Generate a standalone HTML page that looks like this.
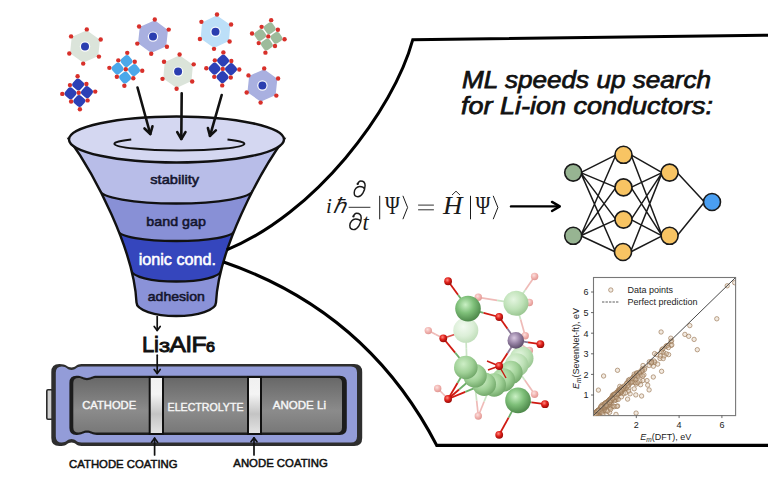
<!DOCTYPE html><html><head><meta charset="utf-8"><style>html,body{margin:0;padding:0;background:#fff;width:768px;height:480px;overflow:hidden}svg{display:block}text{font-family:"Liberation Sans",sans-serif}</style></head><body>
<svg width="768" height="480" viewBox="0 0 768 480">
<defs>
<linearGradient id="gray" x1="0" y1="0" x2="0" y2="1"><stop offset="0" stop-color="#686868"/><stop offset="0.6" stop-color="#8b8b8b"/><stop offset="1" stop-color="#787878"/></linearGradient>
<linearGradient id="coat" x1="0" y1="0" x2="0" y2="1"><stop offset="0" stop-color="#f0f0f0"/><stop offset="0.3" stop-color="#f4f4f4"/><stop offset="0.65" stop-color="#c4c4c4"/><stop offset="1" stop-color="#e4e4e4"/></linearGradient>
<radialGradient id="gA" cx="0.4" cy="0.35" r="0.65"><stop offset="0" stop-color="#c9f0c4"/><stop offset="0.5" stop-color="#7fc07a"/><stop offset="1" stop-color="#4f8a4c"/></radialGradient>
<radialGradient id="gL" cx="0.4" cy="0.35" r="0.65"><stop offset="0" stop-color="#cdeec6"/><stop offset="0.6" stop-color="#9fd096"/><stop offset="1" stop-color="#74aa6c"/></radialGradient>
<radialGradient id="rA" cx="0.4" cy="0.35" r="0.65"><stop offset="0" stop-color="#ff8a80"/><stop offset="0.5" stop-color="#e0201a"/><stop offset="1" stop-color="#9a0c08"/></radialGradient>
<radialGradient id="gM" cx="0.4" cy="0.35" r="0.65"><stop offset="0" stop-color="#e4f5e0"/><stop offset="0.6" stop-color="#bfe2b8"/><stop offset="1" stop-color="#9cc894"/></radialGradient>
<radialGradient id="gP" cx="0.4" cy="0.35" r="0.65"><stop offset="0" stop-color="#f2faf0"/><stop offset="0.6" stop-color="#dcefd8"/><stop offset="1" stop-color="#c2dfbc"/></radialGradient>
<radialGradient id="pkA" cx="0.4" cy="0.35" r="0.65"><stop offset="0" stop-color="#fbe0de"/><stop offset="0.6" stop-color="#f0b0ac"/><stop offset="1" stop-color="#e09894"/></radialGradient>
<radialGradient id="pA" cx="0.4" cy="0.35" r="0.65"><stop offset="0" stop-color="#d8c8e0"/><stop offset="0.5" stop-color="#9a86a8"/><stop offset="1" stop-color="#5e4e6c"/></radialGradient>
<clipPath id="body"><path id="bodyp" d="M69,139 C95,175 134,250 136.5,302.5 A39.75,13.5 0 0 0 216,302.5 C218.5,250 258,175 284,139 Z"/></clipPath>
</defs>
<polygon points="86.62,31.08 99.16,40.20 97.54,55.61 83.38,61.92 70.84,52.80 72.46,37.39" fill="#dbe4da" stroke="#dbe4da" stroke-width="1.5" stroke-linejoin="round"/><circle cx="86.80" cy="29.39" r="2.2" fill="#d8302a"/><circle cx="100.71" cy="39.50" r="2.2" fill="#d8302a"/><circle cx="98.92" cy="56.61" r="2.2" fill="#d8302a"/><circle cx="83.20" cy="63.61" r="2.2" fill="#d8302a"/><circle cx="69.29" cy="53.50" r="2.2" fill="#d8302a"/><circle cx="71.08" cy="36.39" r="2.2" fill="#d8302a"/><circle cx="85" cy="46.5" r="5.2" fill="#fff" opacity="0.9"/><circle cx="85" cy="46.5" r="4" fill="#2b3eb0"/>
<polygon points="154.62,21.18 167.16,30.30 165.54,45.71 151.38,52.02 138.84,42.90 140.46,27.49" fill="#a9b0e0" stroke="#a9b0e0" stroke-width="1.5" stroke-linejoin="round"/><circle cx="154.80" cy="19.49" r="2.2" fill="#d8302a"/><circle cx="168.71" cy="29.60" r="2.2" fill="#d8302a"/><circle cx="166.92" cy="46.71" r="2.2" fill="#d8302a"/><circle cx="151.20" cy="53.71" r="2.2" fill="#d8302a"/><circle cx="137.29" cy="43.60" r="2.2" fill="#d8302a"/><circle cx="139.08" cy="26.49" r="2.2" fill="#d8302a"/><circle cx="153" cy="36.6" r="5.2" fill="#fff" opacity="0.9"/><circle cx="153" cy="36.6" r="4" fill="#2b3eb0"/>
<polygon points="216.85,16.26 229.55,25.15 228.20,40.59 214.15,47.14 201.45,38.25 202.80,22.81" fill="#bcdff8" stroke="#bcdff8" stroke-width="1.5" stroke-linejoin="round"/><circle cx="217.00" cy="14.57" r="2.2" fill="#d8302a"/><circle cx="231.09" cy="24.43" r="2.2" fill="#d8302a"/><circle cx="229.59" cy="41.57" r="2.2" fill="#d8302a"/><circle cx="214.00" cy="48.83" r="2.2" fill="#d8302a"/><circle cx="199.91" cy="38.97" r="2.2" fill="#d8302a"/><circle cx="201.41" cy="21.83" r="2.2" fill="#d8302a"/><circle cx="215.5" cy="31.7" r="5.2" fill="#fff" opacity="0.9"/><circle cx="215.5" cy="31.7" r="4" fill="#2b3eb0"/>
<polygon points="179.45,56.16 192.15,65.05 190.80,80.49 176.75,87.04 164.05,78.15 165.40,62.71" fill="#dbe4da" stroke="#dbe4da" stroke-width="1.5" stroke-linejoin="round"/><circle cx="179.60" cy="54.47" r="2.2" fill="#d8302a"/><circle cx="193.69" cy="64.33" r="2.2" fill="#d8302a"/><circle cx="192.19" cy="81.47" r="2.2" fill="#d8302a"/><circle cx="176.60" cy="88.73" r="2.2" fill="#d8302a"/><circle cx="162.51" cy="78.87" r="2.2" fill="#d8302a"/><circle cx="164.01" cy="61.73" r="2.2" fill="#d8302a"/><circle cx="178.1" cy="71.6" r="5.2" fill="#fff" opacity="0.9"/><circle cx="178.1" cy="71.6" r="4" fill="#2b3eb0"/>
<polygon points="264.02,70.08 276.56,79.20 274.94,94.61 260.78,100.92 248.24,91.80 249.86,76.39" fill="#a9b0e0" stroke="#a9b0e0" stroke-width="1.5" stroke-linejoin="round"/><circle cx="264.20" cy="68.39" r="2.2" fill="#d8302a"/><circle cx="278.11" cy="78.50" r="2.2" fill="#d8302a"/><circle cx="276.32" cy="95.61" r="2.2" fill="#d8302a"/><circle cx="260.60" cy="102.61" r="2.2" fill="#d8302a"/><circle cx="246.69" cy="92.50" r="2.2" fill="#d8302a"/><circle cx="248.48" cy="75.39" r="2.2" fill="#d8302a"/><circle cx="262.4" cy="85.5" r="5.2" fill="#fff" opacity="0.9"/><circle cx="262.4" cy="85.5" r="4" fill="#2b3eb0"/>
<rect x="73.07" y="79.42" width="10.2" height="10.2" rx="3.2" fill="#2c40b6" transform="rotate(41.0 78.17 84.52)"/><rect x="65.42" y="88.23" width="10.2" height="10.2" rx="3.2" fill="#2c40b6" transform="rotate(41.0 70.52 93.33)"/><rect x="81.88" y="87.07" width="10.2" height="10.2" rx="3.2" fill="#2c40b6" transform="rotate(41.0 86.98 92.17)"/><rect x="74.23" y="95.88" width="10.2" height="10.2" rx="3.2" fill="#2c40b6" transform="rotate(41.0 79.33 100.98)"/><circle cx="77.60" cy="76.29" r="2.2" fill="#d8302a"/><circle cx="69.94" cy="85.10" r="2.2" fill="#d8302a"/><circle cx="62.29" cy="93.90" r="2.2" fill="#d8302a"/><circle cx="86.40" cy="83.94" r="2.2" fill="#d8302a"/><circle cx="78.75" cy="92.75" r="2.2" fill="#d8302a"/><circle cx="71.10" cy="101.56" r="2.2" fill="#d8302a"/><circle cx="95.21" cy="91.60" r="2.2" fill="#d8302a"/><circle cx="87.56" cy="100.40" r="2.2" fill="#d8302a"/><circle cx="79.90" cy="109.21" r="2.2" fill="#d8302a"/>
<rect x="121.42" y="55.98" width="10.2" height="10.2" rx="3.2" fill="#4ba8ea" transform="rotate(50.0 126.52 61.08)"/><rect x="112.48" y="63.48" width="10.2" height="10.2" rx="3.2" fill="#4ba8ea" transform="rotate(50.0 117.58 68.58)"/><rect x="128.92" y="64.92" width="10.2" height="10.2" rx="3.2" fill="#4ba8ea" transform="rotate(50.0 134.02 70.02)"/><rect x="119.98" y="72.42" width="10.2" height="10.2" rx="3.2" fill="#4ba8ea" transform="rotate(50.0 125.08 77.52)"/><circle cx="127.24" cy="52.86" r="2.2" fill="#d8302a"/><circle cx="118.30" cy="60.36" r="2.2" fill="#d8302a"/><circle cx="109.36" cy="67.86" r="2.2" fill="#d8302a"/><circle cx="134.74" cy="61.80" r="2.2" fill="#d8302a"/><circle cx="125.80" cy="69.30" r="2.2" fill="#d8302a"/><circle cx="116.86" cy="76.80" r="2.2" fill="#d8302a"/><circle cx="142.24" cy="70.74" r="2.2" fill="#d8302a"/><circle cx="133.30" cy="78.24" r="2.2" fill="#d8302a"/><circle cx="124.36" cy="85.74" r="2.2" fill="#d8302a"/>
<rect x="217.99" y="55.56" width="10.2" height="10.2" rx="3.2" fill="#2c40b6" transform="rotate(47.0 223.09 60.66)"/><rect x="209.46" y="63.51" width="10.2" height="10.2" rx="3.2" fill="#2c40b6" transform="rotate(47.0 214.56 68.61)"/><rect x="225.94" y="64.09" width="10.2" height="10.2" rx="3.2" fill="#2c40b6" transform="rotate(47.0 231.04 69.19)"/><rect x="217.41" y="72.04" width="10.2" height="10.2" rx="3.2" fill="#2c40b6" transform="rotate(47.0 222.51 77.14)"/><circle cx="223.38" cy="52.41" r="2.2" fill="#d8302a"/><circle cx="214.84" cy="60.37" r="2.2" fill="#d8302a"/><circle cx="206.31" cy="68.32" r="2.2" fill="#d8302a"/><circle cx="231.33" cy="60.94" r="2.2" fill="#d8302a"/><circle cx="222.80" cy="68.90" r="2.2" fill="#d8302a"/><circle cx="214.27" cy="76.86" r="2.2" fill="#d8302a"/><circle cx="239.29" cy="69.48" r="2.2" fill="#d8302a"/><circle cx="230.76" cy="77.43" r="2.2" fill="#d8302a"/><circle cx="222.22" cy="85.39" r="2.2" fill="#d8302a"/>
<rect x="264.63" y="23.18" width="10.2" height="10.2" rx="3.2" fill="#9dbb9b" transform="rotate(55.0 269.73 28.28)"/><rect x="255.08" y="29.87" width="10.2" height="10.2" rx="3.2" fill="#9dbb9b" transform="rotate(55.0 260.18 34.97)"/><rect x="271.32" y="32.73" width="10.2" height="10.2" rx="3.2" fill="#9dbb9b" transform="rotate(55.0 276.42 37.83)"/><rect x="261.77" y="39.42" width="10.2" height="10.2" rx="3.2" fill="#9dbb9b" transform="rotate(55.0 266.87 44.52)"/><circle cx="271.17" cy="20.15" r="2.2" fill="#d8302a"/><circle cx="261.61" cy="26.84" r="2.2" fill="#d8302a"/><circle cx="252.05" cy="33.53" r="2.2" fill="#d8302a"/><circle cx="277.86" cy="29.71" r="2.2" fill="#d8302a"/><circle cx="268.30" cy="36.40" r="2.2" fill="#d8302a"/><circle cx="258.74" cy="43.09" r="2.2" fill="#d8302a"/><circle cx="284.55" cy="39.27" r="2.2" fill="#d8302a"/><circle cx="274.99" cy="45.96" r="2.2" fill="#d8302a"/><circle cx="265.43" cy="52.65" r="2.2" fill="#d8302a"/>
<g clip-path="url(#body)">
<rect x="60" y="100" width="240" height="230" fill="#b8bde8"/>
<path d="M0,190 L99.74,190 A76.51,13.5 0 0 0 252.76,190 L400,190 L400,400 L0,400Z" fill="#8890d6"/>
<path d="M0,231 L118.50,231 A57.75,10 0 0 0 234.00,231 L400,231 L400,400 L0,400Z" fill="#3546bd"/>
<path d="M0,270.5 L131.45,270.5 A44.80,11 0 0 0 221.05,270.5 L400,270.5 L400,400 L0,400Z" fill="#8a92d8"/>
<path d="M99.74,190 A76.51,13.5 0 0 0 252.76,190M118.50,231 A57.75,10 0 0 0 234.00,231M131.45,270.5 A44.80,11 0 0 0 221.05,270.5" fill="none" stroke="#111" stroke-width="2.3"/>
</g>
<use href="#bodyp" fill="none" stroke="#111" stroke-width="2.4"/>
<ellipse cx="176.5" cy="139.5" rx="107.5" ry="23" fill="#d4d7f1" stroke="#111" stroke-width="2.4"/>
<path d="M131.25,139.4 A65,6.6 0 1 0 227.5,139.4" fill="none" stroke="#111" stroke-width="2"/>
<line x1="137.5" y1="87.5" x2="150.3" y2="134" stroke="#111" stroke-width="2.6" stroke-linecap="round"/><path d="M144.50,128.49 L150.3,134 L152.46,126.30" fill="none" stroke="#111" stroke-width="2.6" stroke-linecap="round" stroke-linejoin="round"/>
<line x1="181.7" y1="93.3" x2="181.3" y2="139" stroke="#111" stroke-width="2.6" stroke-linecap="round"/><path d="M177.24,132.11 L181.3,139 L185.48,132.18" fill="none" stroke="#111" stroke-width="2.6" stroke-linecap="round" stroke-linejoin="round"/>
<line x1="221.7" y1="95" x2="210" y2="135.8" stroke="#111" stroke-width="2.6" stroke-linecap="round"/><path d="M207.93,128.07 L210,135.8 L215.85,130.35" fill="none" stroke="#111" stroke-width="2.6" stroke-linecap="round" stroke-linejoin="round"/>
<g fill="#14152e" stroke="#14152e" stroke-width="0.55">
<text x="150.3" y="184" font-size="13.5" textLength="48.8" lengthAdjust="spacingAndGlyphs">stability</text>
<text x="146.3" y="225.6" font-size="13.5" textLength="59.6" lengthAdjust="spacingAndGlyphs">band gap</text>
<text x="138.7" y="264.6" font-size="16" fill="#fff" stroke="#fff" textLength="77.3" lengthAdjust="spacingAndGlyphs">ionic cond.</text>
<text x="147.8" y="300.6" font-size="13.3" textLength="57.1" lengthAdjust="spacingAndGlyphs">adhesion</text>
</g>
<path d="M226.7,249.8 C314.3,214.4 393.5,110.9 412.8,39.7 L770,35.2" fill="none" stroke="#000" stroke-width="3" stroke-linejoin="miter"/>
<path d="M223.6,262 C319.1,294.8 389.7,354.7 436.7,445.4 L770,445.4" fill="none" stroke="#000" stroke-width="3.1"/>
<line x1="157.2" y1="316.6" x2="157.2" y2="330.4" stroke="#111" stroke-width="1.7" stroke-linecap="round"/><path d="M154.21,326.39 L157.2,330.4 L160.19,326.39" fill="none" stroke="#111" stroke-width="1.7" stroke-linecap="round" stroke-linejoin="round"/>
<g fill="#111" stroke="#111" stroke-width="0.9">
<text x="142" y="351.6" font-size="22">L</text>
<text x="154" y="351.6" font-size="22">i</text>
<text x="159" y="351.6" font-size="14" textLength="11" lengthAdjust="spacingAndGlyphs">3</text>
<text x="169.5" y="351.6" font-size="22" textLength="37" lengthAdjust="spacingAndGlyphs">AlF</text>
<text x="206" y="351.6" font-size="14" textLength="9" lengthAdjust="spacingAndGlyphs">6</text>
</g>
<rect x="46.8" y="389.7" width="6" height="29.5" rx="1.2" fill="#d0d0d0" stroke="#2b2b2b" stroke-width="1.6"/>
<path d="M51.3,371.9 Q51.3,363.9 59.3,363.9 C66.5,363.9 67.5,367.4 71.5,367.4 C75.5,367.4 76.5,363.9 81.5,363.9 L354.2,363.9 Q362.2,363.9 362.2,371.9 L362.2,438 Q362.2,446 354.2,446 L81.5,446 C76.5,446 75.5,442.5 71.5,442.5 C67.5,442.5 66.5,446 61.5,446 L59.3,446 Q51.3,446 51.3,438 Z" fill="#2e2e2e"/>
<path d="M55.8,372.5 Q55.8,366.5 61.8,366.5 C66.5,366.5 67.5,370.0 71.5,370.0 C75.5,370.0 76.5,366.5 81.5,366.5 L351,366.5 Q357,366.5 357,372.5 L357,436.6 Q357,442.6 351,442.6 L81.5,442.6 C76.5,442.6 75.5,439.1 71.5,439.1 C67.5,439.1 66.5,442.6 61.5,442.6 L61.8,442.6 Q55.8,442.6 55.8,436.6 Z" fill="#939cd8"/>
<path d="M69.4,382.8 Q69.4,375.8 76.4,375.8 C82,375.8 83,378.0 87,378.0 C91,378.0 92,375.8 97,375.8 L339.8,375.8 Q346.8,375.8 346.8,382.8 L346.8,428 Q346.8,435 339.8,435 L97,435 C92,435 91,432.8 87,432.8 C83,432.8 82,435 77,435 L76.4,435 Q69.4,435 69.4,428 Z" fill="#1c1c1c"/>
<path d="M73.3,383 Q73.3,378 78.3,378 C82,378 83,380.2 87,380.2 C91,380.2 92,378 97,378 L337,378 Q342,378 342,383 L342,427.6 Q342,432.6 337,432.6 L97,432.6 C92,432.6 91,430.40000000000003 87,430.40000000000003 C83,430.40000000000003 82,432.6 77,432.6 L78.3,432.6 Q73.3,432.6 73.3,427.6 Z" fill="url(#gray)"/>
<rect x="149.7" y="377" width="13.3" height="57" fill="url(#coat)" stroke="#111" stroke-width="2"/>
<rect x="248" y="377" width="13" height="57" fill="url(#coat)" stroke="#111" stroke-width="2"/>
<line x1="157.2" y1="355.2" x2="157.2" y2="373.4" stroke="#111" stroke-width="1.7" stroke-linecap="round"/><path d="M154.21,369.39 L157.2,373.4 L160.19,369.39" fill="none" stroke="#111" stroke-width="1.7" stroke-linecap="round" stroke-linejoin="round"/>
<g fill="#f6f6f6" stroke="#f6f6f6" stroke-width="0.4" font-size="10.6">
<text x="82.3" y="408.7" textLength="53.8" lengthAdjust="spacingAndGlyphs">CATHODE</text>
<text x="167.6" y="410.8" textLength="75.9" lengthAdjust="spacingAndGlyphs">ELECTROLYTE</text>
<text x="272.8" y="408.9" textLength="53.2" lengthAdjust="spacingAndGlyphs">ANODE Li</text>
</g>
<line x1="154.6" y1="455" x2="154.6" y2="438.2" stroke="#111" stroke-width="1.7" stroke-linecap="round"/><path d="M157.59,442.21 L154.6,438.2 L151.61,442.21" fill="none" stroke="#111" stroke-width="1.7" stroke-linecap="round" stroke-linejoin="round"/>
<line x1="254" y1="455" x2="254" y2="437.8" stroke="#111" stroke-width="1.7" stroke-linecap="round"/><path d="M256.99,441.81 L254,437.8 L251.01,441.81" fill="none" stroke="#111" stroke-width="1.7" stroke-linecap="round" stroke-linejoin="round"/>
<g fill="#111" stroke="#111" stroke-width="0.5" font-size="11.2">
<text x="69.1" y="468" textLength="108.5" lengthAdjust="spacingAndGlyphs">CATHODE COATING</text>
<text x="233.3" y="466.9" textLength="94.5" lengthAdjust="spacingAndGlyphs">ANODE COATING</text>
</g>
<g font-style="italic" font-size="24.5" fill="#111" stroke="#111" stroke-width="0.75">
<text x="462" y="87.7" textLength="249" lengthAdjust="spacingAndGlyphs">ML speeds up search</text>
<text x="461" y="113.8" textLength="252" lengthAdjust="spacingAndGlyphs">for Li-ion conductors:</text>
</g>
<g fill="#1a1a1a" style="font-family:'Liberation Serif',serif">
<text x="326" y="213.2" font-size="21" font-style="italic" style="font-family:'Liberation Serif',serif">i</text>
<text x="332.5" y="213.2" font-size="21" font-style="italic" style="font-family:'Liberation Serif',serif">ℏ</text>
<path d="M357.66,183.97 C358.36,181.83 359.28,180.90 360.67,180.90 C363.44,180.90 365.10,182.76 365.10,185.55 C365.10,190.66 361.59,196.70 357.89,196.70 C355.59,196.70 354.20,194.84 354.20,192.80 C354.20,189.26 356.97,186.48 359.74,186.48 C362.05,186.48 363.90,187.41 364.64,188.80" fill="none" stroke="#1a1a1a" stroke-width="1.45" stroke-linecap="round"/><circle cx="357.66" cy="183.97" r="1.15" fill="#1a1a1a"/>
<line x1="348.6" y1="207.3" x2="370.4" y2="207.3" stroke="#1a1a1a" stroke-width="0.9"/>
<path d="M353.42,216.38 C354.15,214.16 355.11,213.20 356.56,213.20 C359.46,213.20 361.20,215.13 361.20,218.02 C361.20,223.33 357.53,229.60 353.66,229.60 C351.25,229.60 349.80,227.67 349.80,225.55 C349.80,221.88 352.70,218.99 355.60,218.99 C358.01,218.99 359.94,219.95 360.72,221.40" fill="none" stroke="#1a1a1a" stroke-width="1.45" stroke-linecap="round"/><circle cx="353.42" cy="216.38" r="1.15" fill="#1a1a1a"/>
<text x="362.6" y="229.6" font-size="22.5" font-style="italic" style="font-family:'Liberation Serif',serif">t</text>
<line x1="379.7" y1="195.8" x2="379.7" y2="219.3" stroke="#1a1a1a" stroke-width="1"/>
<text x="385.1" y="214" font-size="25" textLength="14.8" lengthAdjust="spacingAndGlyphs" style="font-family:'Liberation Serif',serif">Ψ</text>
<path d="M402.9,195.8 L407.59999999999997,207.5 L402.9,219.2" fill="none" stroke="#1a1a1a" stroke-width="1"/>
<line x1="470.5" y1="195.8" x2="470.5" y2="219.3" stroke="#1a1a1a" stroke-width="1"/>
<text x="475.6" y="214" font-size="25" textLength="14.8" lengthAdjust="spacingAndGlyphs" style="font-family:'Liberation Serif',serif">Ψ</text>
<path d="M493.2,195.8 L497.9,207.5 L493.2,219.2" fill="none" stroke="#1a1a1a" stroke-width="1"/>
<line x1="418.1" y1="205.1" x2="433.9" y2="205.1" stroke="#1a1a1a" stroke-width="0.9"/>
<line x1="418.1" y1="209.8" x2="433.9" y2="209.8" stroke="#1a1a1a" stroke-width="0.9"/>
<text x="443" y="213.5" font-size="25.5" font-style="italic" textLength="19.5" lengthAdjust="spacingAndGlyphs" style="font-family:'Liberation Serif',serif">H</text>
<path d="M452,195 L456,191.2 L460,195" fill="none" stroke="#1a1a1a" stroke-width="0.9"/>
</g>
<line x1="511" y1="206.4" x2="559" y2="206.4" stroke="#000" stroke-width="2.4" stroke-linecap="round"/>
<path d="M552,201.9 L559.8,206.4 L552,211" fill="none" stroke="#000" stroke-width="2.4" stroke-linecap="round" stroke-linejoin="round"/>
<path d="M580.7,172.6L616.0,154.8M580.7,172.6L616.0,187.4M580.7,172.6L616.0,219.6M580.7,172.6L615.5,252M580.7,235.8L616.0,154.8M580.7,235.8L616.0,187.4M580.7,235.8L616.0,219.6M580.7,235.8L615.5,252M631.0,154.8L662.1,172.6M631.0,154.8L662.1,235.8M631.0,187.4L662.1,172.6M631.0,187.4L662.1,235.8M631.0,219.6L662.1,172.6M631.0,219.6L662.1,235.8M630.5,252L662.1,172.6M630.5,252L662.1,235.8M677.1,172.6L704.5,202M677.1,235.8L704.5,202" stroke="#1a1a1a" stroke-width="1.5" fill="none"/>
<circle cx="573.2" cy="172.6" r="8.5" fill="#97b492" stroke="#1a1a1a" stroke-width="1.6"/>
<circle cx="573.2" cy="235.8" r="8.5" fill="#97b492" stroke="#1a1a1a" stroke-width="1.6"/>
<circle cx="623.5" cy="154.8" r="8.5" fill="#f8c463" stroke="#1a1a1a" stroke-width="1.6"/>
<circle cx="623.5" cy="187.4" r="8.5" fill="#f8c463" stroke="#1a1a1a" stroke-width="1.6"/>
<circle cx="623.5" cy="219.6" r="8.5" fill="#f8c463" stroke="#1a1a1a" stroke-width="1.6"/>
<circle cx="623" cy="252" r="8.5" fill="#f8c463" stroke="#1a1a1a" stroke-width="1.6"/>
<circle cx="669.6" cy="172.6" r="8.5" fill="#f8c463" stroke="#1a1a1a" stroke-width="1.6"/>
<circle cx="669.6" cy="235.8" r="8.5" fill="#f8c463" stroke="#1a1a1a" stroke-width="1.6"/>
<circle cx="712" cy="202" r="8.5" fill="#4a9ff2" stroke="#1a1a1a" stroke-width="1.6"/>
<g opacity="0.75"><line x1="534.6" y1="276.5" x2="525.3" y2="289.9" stroke="#eaa4a0" stroke-width="1.7"/><line x1="525.3" y1="289.9" x2="516" y2="303.3" stroke="#b9dcb2" stroke-width="1.7"/></g><g opacity="0.75"><line x1="478.3" y1="297.3" x2="497.15" y2="300.3" stroke="#eaa4a0" stroke-width="1.7"/><line x1="497.15" y1="300.3" x2="516" y2="303.3" stroke="#b9dcb2" stroke-width="1.7"/></g><g opacity="0.75"><line x1="516" y1="303.3" x2="520.6" y2="319.55" stroke="#b9dcb2" stroke-width="1.7"/><line x1="520.6" y1="319.55" x2="525.2" y2="335.8" stroke="#eaa4a0" stroke-width="1.7"/></g><g opacity="0.75"><line x1="428.3" y1="330.6" x2="435.8" y2="334.45000000000005" stroke="#eaa4a0" stroke-width="1.7"/><line x1="435.8" y1="334.45000000000005" x2="443.3" y2="338.3" stroke="#eaa4a0" stroke-width="1.7"/></g><g opacity="0.75"><line x1="443.3" y1="338.3" x2="454.55" y2="334.45000000000005" stroke="#d01a12" stroke-width="1.7"/><line x1="454.55" y1="334.45000000000005" x2="465.8" y2="330.6" stroke="#b9dcb2" stroke-width="1.7"/></g><g opacity="0.75"><line x1="478.3" y1="416" x2="476.65" y2="400.5" stroke="#eaa4a0" stroke-width="1.7"/><line x1="476.65" y1="400.5" x2="475" y2="385" stroke="#b9dcb2" stroke-width="1.7"/></g><g opacity="0.75"><line x1="478.3" y1="416" x2="484.15" y2="401.5" stroke="#eaa4a0" stroke-width="1.7"/><line x1="484.15" y1="401.5" x2="490" y2="387" stroke="#b9dcb2" stroke-width="1.7"/></g><g opacity="0.75"><line x1="534.6" y1="394.2" x2="524.7" y2="380.1" stroke="#eaa4a0" stroke-width="1.7"/><line x1="524.7" y1="380.1" x2="514.8" y2="366" stroke="#b9dcb2" stroke-width="1.7"/></g><g opacity="0.75"><line x1="465.8" y1="330.6" x2="466.35" y2="348.8" stroke="#b9dcb2" stroke-width="1.7"/><line x1="466.35" y1="348.8" x2="466.9" y2="367" stroke="#b9dcb2" stroke-width="1.7"/></g><g opacity="0.75"><line x1="437.7" y1="388.5" x2="442.9" y2="393.75" stroke="#eaa4a0" stroke-width="1.7"/><line x1="442.9" y1="393.75" x2="448.1" y2="399" stroke="#eaa4a0" stroke-width="1.7"/></g><g opacity="0.75"><line x1="529.4" y1="350.4" x2="522.5999999999999" y2="345.4" stroke="#eaa4a0" stroke-width="1.7"/><line x1="522.5999999999999" y1="345.4" x2="515.8" y2="340.4" stroke="#8a7896" stroke-width="1.7"/></g><circle cx="478.3" cy="297.3" r="3.7" fill="url(#pkA)"/><circle cx="534.6" cy="276.5" r="3.7" fill="url(#pkA)"/><circle cx="529.4" cy="302.5" r="3.7" fill="url(#pkA)"/><circle cx="428.3" cy="330.6" r="3.7" fill="url(#pkA)"/><circle cx="525.2" cy="335.8" r="3.7" fill="url(#pkA)"/><circle cx="529.4" cy="350.4" r="3.7" fill="url(#pkA)"/><circle cx="437.7" cy="388.5" r="3.7" fill="url(#pkA)"/><circle cx="534.6" cy="394.2" r="3.7" fill="url(#pkA)"/><circle cx="478.3" cy="416" r="3.7" fill="url(#pkA)"/><circle cx="516" cy="303.3" r="12.5" fill="url(#gM)"/><circle cx="465.8" cy="330.3" r="12.5" fill="url(#gP)"/><g opacity="1"><line x1="448" y1="281" x2="458.0" y2="294.8" stroke="#d01a12" stroke-width="1.8"/><line x1="458.0" y1="294.8" x2="468" y2="308.6" stroke="#6fae6a" stroke-width="1.8"/></g><g opacity="1"><line x1="468" y1="308.6" x2="483.6" y2="312.8" stroke="#6fae6a" stroke-width="1.8"/><line x1="483.6" y1="312.8" x2="499.2" y2="317" stroke="#d01a12" stroke-width="1.8"/></g><g opacity="1"><line x1="499.2" y1="317" x2="507.5" y2="328.7" stroke="#d01a12" stroke-width="1.8"/><line x1="507.5" y1="328.7" x2="515.8" y2="340.4" stroke="#8a7896" stroke-width="1.8"/></g><g opacity="1"><line x1="515.8" y1="340.4" x2="528.0999999999999" y2="342.29999999999995" stroke="#8a7896" stroke-width="1.8"/><line x1="528.0999999999999" y1="342.29999999999995" x2="540.4" y2="344.2" stroke="#d01a12" stroke-width="1.8"/></g><g opacity="1"><line x1="443.3" y1="338.3" x2="455.1" y2="352.65" stroke="#d01a12" stroke-width="1.8"/><line x1="455.1" y1="352.65" x2="466.9" y2="367" stroke="#6fae6a" stroke-width="1.8"/></g><g opacity="1"><line x1="515.8" y1="340.4" x2="507.5" y2="353.2" stroke="#8a7896" stroke-width="1.8"/><line x1="507.5" y1="353.2" x2="499.2" y2="366" stroke="#d01a12" stroke-width="1.8"/></g><g opacity="1"><line x1="448.1" y1="399" x2="457.5" y2="383.0" stroke="#d01a12" stroke-width="1.8"/><line x1="457.5" y1="383.0" x2="466.9" y2="367" stroke="#6fae6a" stroke-width="1.8"/></g><g opacity="1"><line x1="448.1" y1="399" x2="465.3" y2="391.9" stroke="#d01a12" stroke-width="1.8"/><line x1="465.3" y1="391.9" x2="482.5" y2="384.8" stroke="#6fae6a" stroke-width="1.8"/></g><g opacity="1"><line x1="518" y1="400.4" x2="531.5" y2="402.29999999999995" stroke="#6fae6a" stroke-width="1.8"/><line x1="531.5" y1="402.29999999999995" x2="545" y2="404.2" stroke="#d01a12" stroke-width="1.8"/></g><g opacity="1"><line x1="518" y1="400.4" x2="508.6" y2="417.6" stroke="#6fae6a" stroke-width="1.8"/><line x1="508.6" y1="417.6" x2="499.2" y2="434.8" stroke="#d01a12" stroke-width="1.8"/></g><g opacity="1"><line x1="448.1" y1="399" x2="459.05" y2="389.5" stroke="#d01a12" stroke-width="1.8"/><line x1="459.05" y1="389.5" x2="470" y2="380" stroke="#6fae6a" stroke-width="1.8"/></g><circle cx="468" cy="308.6" r="12.8" fill="url(#gA)"/><circle cx="521.7" cy="358.3" r="11.8" fill="url(#gM)"/><circle cx="516.7" cy="365" r="11.8" fill="url(#gM)"/><circle cx="510.8" cy="372.5" r="11.8" fill="url(#gL)"/><circle cx="503.3" cy="380" r="11.8" fill="url(#gL)"/><circle cx="494.2" cy="385" r="11.8" fill="url(#gL)"/><circle cx="484.2" cy="384.2" r="11.8" fill="url(#gL)"/><circle cx="475" cy="375.8" r="11.8" fill="url(#gL)"/><circle cx="465.8" cy="367.5" r="11.8" fill="url(#gL)"/><circle cx="515.8" cy="340.4" r="8.3" fill="url(#pA)"/><circle cx="518" cy="400.4" r="12.8" fill="url(#gA)"/><line x1="499.2" y1="366" x2="487" y2="361" stroke="#c81810" stroke-width="1.4"/><line x1="499.2" y1="366" x2="488" y2="370" stroke="#c81810" stroke-width="1.4"/><line x1="499.2" y1="366" x2="506" y2="378" stroke="#c81810" stroke-width="1.4"/><circle cx="448.1" cy="281.25" r="3.9" fill="url(#rA)"/><circle cx="499.2" cy="317" r="3.9" fill="url(#rA)"/><circle cx="443.3" cy="338.3" r="3.9" fill="url(#rA)"/><circle cx="540.4" cy="344.2" r="3.9" fill="url(#rA)"/><circle cx="499.2" cy="366" r="3.9" fill="url(#rA)"/><circle cx="545" cy="404.2" r="3.9" fill="url(#rA)"/><circle cx="448.1" cy="399" r="3.9" fill="url(#rA)"/><circle cx="499.2" cy="434.8" r="3.9" fill="url(#rA)"/>
<clipPath id="pc"><rect x="594" y="278" width="141.2" height="137.2"/></clipPath><g><rect x="593.5" y="277.5" width="142.1" height="138.1" fill="none" stroke="#777" stroke-width="1.1"/><g clip-path="url(#pc)"><circle cx="605.1" cy="405.6" r="2.2" fill="#d9c3aa" fill-opacity="0.35" stroke="#9c7a58" stroke-width="0.8" stroke-opacity="0.85"/><circle cx="607.2" cy="402.8" r="2.2" fill="#d9c3aa" fill-opacity="0.35" stroke="#9c7a58" stroke-width="0.8" stroke-opacity="0.85"/><circle cx="597.4" cy="412.9" r="2.2" fill="#d9c3aa" fill-opacity="0.35" stroke="#9c7a58" stroke-width="0.8" stroke-opacity="0.85"/><circle cx="595.4" cy="414.9" r="2.2" fill="#d9c3aa" fill-opacity="0.35" stroke="#9c7a58" stroke-width="0.8" stroke-opacity="0.85"/><circle cx="595.3" cy="413.9" r="2.2" fill="#d9c3aa" fill-opacity="0.35" stroke="#9c7a58" stroke-width="0.8" stroke-opacity="0.85"/><circle cx="671.1" cy="345.4" r="2.2" fill="#d9c3aa" fill-opacity="0.35" stroke="#9c7a58" stroke-width="0.8" stroke-opacity="0.85"/><circle cx="613.9" cy="395.5" r="2.2" fill="#d9c3aa" fill-opacity="0.35" stroke="#9c7a58" stroke-width="0.8" stroke-opacity="0.85"/><circle cx="608.0" cy="401.3" r="2.2" fill="#d9c3aa" fill-opacity="0.35" stroke="#9c7a58" stroke-width="0.8" stroke-opacity="0.85"/><circle cx="597.6" cy="412.6" r="2.2" fill="#d9c3aa" fill-opacity="0.35" stroke="#9c7a58" stroke-width="0.8" stroke-opacity="0.85"/><circle cx="604.7" cy="404.5" r="2.2" fill="#d9c3aa" fill-opacity="0.35" stroke="#9c7a58" stroke-width="0.8" stroke-opacity="0.85"/><circle cx="607.6" cy="404.2" r="2.2" fill="#d9c3aa" fill-opacity="0.35" stroke="#9c7a58" stroke-width="0.8" stroke-opacity="0.85"/><circle cx="605.3" cy="403.7" r="2.2" fill="#d9c3aa" fill-opacity="0.35" stroke="#9c7a58" stroke-width="0.8" stroke-opacity="0.85"/><circle cx="665.9" cy="346.6" r="2.2" fill="#d9c3aa" fill-opacity="0.35" stroke="#9c7a58" stroke-width="0.8" stroke-opacity="0.85"/><circle cx="598.5" cy="411.4" r="2.2" fill="#d9c3aa" fill-opacity="0.35" stroke="#9c7a58" stroke-width="0.8" stroke-opacity="0.85"/><circle cx="594.9" cy="414.7" r="2.2" fill="#d9c3aa" fill-opacity="0.35" stroke="#9c7a58" stroke-width="0.8" stroke-opacity="0.85"/><circle cx="654.6" cy="353.6" r="2.2" fill="#d9c3aa" fill-opacity="0.35" stroke="#9c7a58" stroke-width="0.8" stroke-opacity="0.85"/><circle cx="593.5" cy="414.0" r="2.2" fill="#d9c3aa" fill-opacity="0.35" stroke="#9c7a58" stroke-width="0.8" stroke-opacity="0.85"/><circle cx="603.3" cy="406.6" r="2.2" fill="#d9c3aa" fill-opacity="0.35" stroke="#9c7a58" stroke-width="0.8" stroke-opacity="0.85"/><circle cx="612.6" cy="397.3" r="2.2" fill="#d9c3aa" fill-opacity="0.35" stroke="#9c7a58" stroke-width="0.8" stroke-opacity="0.85"/><circle cx="601.3" cy="410.8" r="2.2" fill="#d9c3aa" fill-opacity="0.35" stroke="#9c7a58" stroke-width="0.8" stroke-opacity="0.85"/><circle cx="620.8" cy="388.7" r="2.2" fill="#d9c3aa" fill-opacity="0.35" stroke="#9c7a58" stroke-width="0.8" stroke-opacity="0.85"/><circle cx="594.7" cy="414.0" r="2.2" fill="#d9c3aa" fill-opacity="0.35" stroke="#9c7a58" stroke-width="0.8" stroke-opacity="0.85"/><circle cx="597.3" cy="412.2" r="2.2" fill="#d9c3aa" fill-opacity="0.35" stroke="#9c7a58" stroke-width="0.8" stroke-opacity="0.85"/><circle cx="618.9" cy="391.1" r="2.2" fill="#d9c3aa" fill-opacity="0.35" stroke="#9c7a58" stroke-width="0.8" stroke-opacity="0.85"/><circle cx="613.4" cy="397.2" r="2.2" fill="#d9c3aa" fill-opacity="0.35" stroke="#9c7a58" stroke-width="0.8" stroke-opacity="0.85"/><circle cx="599.6" cy="411.8" r="2.2" fill="#d9c3aa" fill-opacity="0.35" stroke="#9c7a58" stroke-width="0.8" stroke-opacity="0.85"/><circle cx="624.8" cy="386.2" r="2.2" fill="#d9c3aa" fill-opacity="0.35" stroke="#9c7a58" stroke-width="0.8" stroke-opacity="0.85"/><circle cx="603.2" cy="409.3" r="2.2" fill="#d9c3aa" fill-opacity="0.35" stroke="#9c7a58" stroke-width="0.8" stroke-opacity="0.85"/><circle cx="613.3" cy="397.5" r="2.2" fill="#d9c3aa" fill-opacity="0.35" stroke="#9c7a58" stroke-width="0.8" stroke-opacity="0.85"/><circle cx="599.3" cy="410.1" r="2.2" fill="#d9c3aa" fill-opacity="0.35" stroke="#9c7a58" stroke-width="0.8" stroke-opacity="0.85"/><circle cx="601.2" cy="408.2" r="2.2" fill="#d9c3aa" fill-opacity="0.35" stroke="#9c7a58" stroke-width="0.8" stroke-opacity="0.85"/><circle cx="610.3" cy="399.2" r="2.2" fill="#d9c3aa" fill-opacity="0.35" stroke="#9c7a58" stroke-width="0.8" stroke-opacity="0.85"/><circle cx="611.2" cy="403.0" r="2.2" fill="#d9c3aa" fill-opacity="0.35" stroke="#9c7a58" stroke-width="0.8" stroke-opacity="0.85"/><circle cx="606.2" cy="404.1" r="2.2" fill="#d9c3aa" fill-opacity="0.35" stroke="#9c7a58" stroke-width="0.8" stroke-opacity="0.85"/><circle cx="632.3" cy="381.5" r="2.2" fill="#d9c3aa" fill-opacity="0.35" stroke="#9c7a58" stroke-width="0.8" stroke-opacity="0.85"/><circle cx="626.3" cy="388.5" r="2.2" fill="#d9c3aa" fill-opacity="0.35" stroke="#9c7a58" stroke-width="0.8" stroke-opacity="0.85"/><circle cx="597.6" cy="411.0" r="2.2" fill="#d9c3aa" fill-opacity="0.35" stroke="#9c7a58" stroke-width="0.8" stroke-opacity="0.85"/><circle cx="651.3" cy="363.3" r="2.2" fill="#d9c3aa" fill-opacity="0.35" stroke="#9c7a58" stroke-width="0.8" stroke-opacity="0.85"/><circle cx="611.3" cy="398.3" r="2.2" fill="#d9c3aa" fill-opacity="0.35" stroke="#9c7a58" stroke-width="0.8" stroke-opacity="0.85"/><circle cx="656.8" cy="354.7" r="2.2" fill="#d9c3aa" fill-opacity="0.35" stroke="#9c7a58" stroke-width="0.8" stroke-opacity="0.85"/><circle cx="617.0" cy="393.8" r="2.2" fill="#d9c3aa" fill-opacity="0.35" stroke="#9c7a58" stroke-width="0.8" stroke-opacity="0.85"/><circle cx="600.2" cy="410.4" r="2.2" fill="#d9c3aa" fill-opacity="0.35" stroke="#9c7a58" stroke-width="0.8" stroke-opacity="0.85"/><circle cx="618.0" cy="391.8" r="2.2" fill="#d9c3aa" fill-opacity="0.35" stroke="#9c7a58" stroke-width="0.8" stroke-opacity="0.85"/><circle cx="630.3" cy="383.3" r="2.2" fill="#d9c3aa" fill-opacity="0.35" stroke="#9c7a58" stroke-width="0.8" stroke-opacity="0.85"/><circle cx="599.8" cy="409.8" r="2.2" fill="#d9c3aa" fill-opacity="0.35" stroke="#9c7a58" stroke-width="0.8" stroke-opacity="0.85"/><circle cx="599.5" cy="409.4" r="2.2" fill="#d9c3aa" fill-opacity="0.35" stroke="#9c7a58" stroke-width="0.8" stroke-opacity="0.85"/><circle cx="594.7" cy="415.0" r="2.2" fill="#d9c3aa" fill-opacity="0.35" stroke="#9c7a58" stroke-width="0.8" stroke-opacity="0.85"/><circle cx="596.2" cy="413.7" r="2.2" fill="#d9c3aa" fill-opacity="0.35" stroke="#9c7a58" stroke-width="0.8" stroke-opacity="0.85"/><circle cx="636.2" cy="384.1" r="2.2" fill="#d9c3aa" fill-opacity="0.35" stroke="#9c7a58" stroke-width="0.8" stroke-opacity="0.85"/><circle cx="610.4" cy="401.3" r="2.2" fill="#d9c3aa" fill-opacity="0.35" stroke="#9c7a58" stroke-width="0.8" stroke-opacity="0.85"/><circle cx="594.2" cy="414.0" r="2.2" fill="#d9c3aa" fill-opacity="0.35" stroke="#9c7a58" stroke-width="0.8" stroke-opacity="0.85"/><circle cx="593.9" cy="414.6" r="2.2" fill="#d9c3aa" fill-opacity="0.35" stroke="#9c7a58" stroke-width="0.8" stroke-opacity="0.85"/><circle cx="618.8" cy="391.6" r="2.2" fill="#d9c3aa" fill-opacity="0.35" stroke="#9c7a58" stroke-width="0.8" stroke-opacity="0.85"/><circle cx="608.7" cy="401.0" r="2.2" fill="#d9c3aa" fill-opacity="0.35" stroke="#9c7a58" stroke-width="0.8" stroke-opacity="0.85"/><circle cx="637.9" cy="374.1" r="2.2" fill="#d9c3aa" fill-opacity="0.35" stroke="#9c7a58" stroke-width="0.8" stroke-opacity="0.85"/><circle cx="641.0" cy="375.3" r="2.2" fill="#d9c3aa" fill-opacity="0.35" stroke="#9c7a58" stroke-width="0.8" stroke-opacity="0.85"/><circle cx="615.8" cy="400.2" r="2.2" fill="#d9c3aa" fill-opacity="0.35" stroke="#9c7a58" stroke-width="0.8" stroke-opacity="0.85"/><circle cx="623.6" cy="393.8" r="2.2" fill="#d9c3aa" fill-opacity="0.35" stroke="#9c7a58" stroke-width="0.8" stroke-opacity="0.85"/><circle cx="609.9" cy="401.2" r="2.2" fill="#d9c3aa" fill-opacity="0.35" stroke="#9c7a58" stroke-width="0.8" stroke-opacity="0.85"/><circle cx="611.6" cy="399.5" r="2.2" fill="#d9c3aa" fill-opacity="0.35" stroke="#9c7a58" stroke-width="0.8" stroke-opacity="0.85"/><circle cx="613.1" cy="406.1" r="2.2" fill="#d9c3aa" fill-opacity="0.35" stroke="#9c7a58" stroke-width="0.8" stroke-opacity="0.85"/><circle cx="603.0" cy="407.9" r="2.2" fill="#d9c3aa" fill-opacity="0.35" stroke="#9c7a58" stroke-width="0.8" stroke-opacity="0.85"/><circle cx="610.3" cy="399.3" r="2.2" fill="#d9c3aa" fill-opacity="0.35" stroke="#9c7a58" stroke-width="0.8" stroke-opacity="0.85"/><circle cx="620.2" cy="390.2" r="2.2" fill="#d9c3aa" fill-opacity="0.35" stroke="#9c7a58" stroke-width="0.8" stroke-opacity="0.85"/><circle cx="611.2" cy="398.3" r="2.2" fill="#d9c3aa" fill-opacity="0.35" stroke="#9c7a58" stroke-width="0.8" stroke-opacity="0.85"/><circle cx="606.7" cy="405.1" r="2.2" fill="#d9c3aa" fill-opacity="0.35" stroke="#9c7a58" stroke-width="0.8" stroke-opacity="0.85"/><circle cx="642.3" cy="371.1" r="2.2" fill="#d9c3aa" fill-opacity="0.35" stroke="#9c7a58" stroke-width="0.8" stroke-opacity="0.85"/><circle cx="615.3" cy="394.1" r="2.2" fill="#d9c3aa" fill-opacity="0.35" stroke="#9c7a58" stroke-width="0.8" stroke-opacity="0.85"/><circle cx="597.1" cy="414.1" r="2.2" fill="#d9c3aa" fill-opacity="0.35" stroke="#9c7a58" stroke-width="0.8" stroke-opacity="0.85"/><circle cx="601.1" cy="409.1" r="2.2" fill="#d9c3aa" fill-opacity="0.35" stroke="#9c7a58" stroke-width="0.8" stroke-opacity="0.85"/><circle cx="597.8" cy="412.0" r="2.2" fill="#d9c3aa" fill-opacity="0.35" stroke="#9c7a58" stroke-width="0.8" stroke-opacity="0.85"/><circle cx="634.4" cy="382.3" r="2.2" fill="#d9c3aa" fill-opacity="0.35" stroke="#9c7a58" stroke-width="0.8" stroke-opacity="0.85"/><circle cx="610.4" cy="400.3" r="2.2" fill="#d9c3aa" fill-opacity="0.35" stroke="#9c7a58" stroke-width="0.8" stroke-opacity="0.85"/><circle cx="628.4" cy="380.2" r="2.2" fill="#d9c3aa" fill-opacity="0.35" stroke="#9c7a58" stroke-width="0.8" stroke-opacity="0.85"/><circle cx="617.4" cy="393.4" r="2.2" fill="#d9c3aa" fill-opacity="0.35" stroke="#9c7a58" stroke-width="0.8" stroke-opacity="0.85"/><circle cx="605.0" cy="405.0" r="2.2" fill="#d9c3aa" fill-opacity="0.35" stroke="#9c7a58" stroke-width="0.8" stroke-opacity="0.85"/><circle cx="598.1" cy="411.7" r="2.2" fill="#d9c3aa" fill-opacity="0.35" stroke="#9c7a58" stroke-width="0.8" stroke-opacity="0.85"/><circle cx="600.8" cy="409.6" r="2.2" fill="#d9c3aa" fill-opacity="0.35" stroke="#9c7a58" stroke-width="0.8" stroke-opacity="0.85"/><circle cx="670.9" cy="341.6" r="2.2" fill="#d9c3aa" fill-opacity="0.35" stroke="#9c7a58" stroke-width="0.8" stroke-opacity="0.85"/><circle cx="633.2" cy="377.1" r="2.2" fill="#d9c3aa" fill-opacity="0.35" stroke="#9c7a58" stroke-width="0.8" stroke-opacity="0.85"/><circle cx="617.3" cy="393.6" r="2.2" fill="#d9c3aa" fill-opacity="0.35" stroke="#9c7a58" stroke-width="0.8" stroke-opacity="0.85"/><circle cx="593.9" cy="414.6" r="2.2" fill="#d9c3aa" fill-opacity="0.35" stroke="#9c7a58" stroke-width="0.8" stroke-opacity="0.85"/><circle cx="594.0" cy="415.1" r="2.2" fill="#d9c3aa" fill-opacity="0.35" stroke="#9c7a58" stroke-width="0.8" stroke-opacity="0.85"/><circle cx="594.4" cy="414.8" r="2.2" fill="#d9c3aa" fill-opacity="0.35" stroke="#9c7a58" stroke-width="0.8" stroke-opacity="0.85"/><circle cx="604.9" cy="405.8" r="2.2" fill="#d9c3aa" fill-opacity="0.35" stroke="#9c7a58" stroke-width="0.8" stroke-opacity="0.85"/><circle cx="654.8" cy="362.3" r="2.2" fill="#d9c3aa" fill-opacity="0.35" stroke="#9c7a58" stroke-width="0.8" stroke-opacity="0.85"/><circle cx="597.8" cy="411.0" r="2.2" fill="#d9c3aa" fill-opacity="0.35" stroke="#9c7a58" stroke-width="0.8" stroke-opacity="0.85"/><circle cx="605.8" cy="403.6" r="2.2" fill="#d9c3aa" fill-opacity="0.35" stroke="#9c7a58" stroke-width="0.8" stroke-opacity="0.85"/><circle cx="597.3" cy="412.6" r="2.2" fill="#d9c3aa" fill-opacity="0.35" stroke="#9c7a58" stroke-width="0.8" stroke-opacity="0.85"/><circle cx="607.7" cy="403.8" r="2.2" fill="#d9c3aa" fill-opacity="0.35" stroke="#9c7a58" stroke-width="0.8" stroke-opacity="0.85"/><circle cx="620.7" cy="390.3" r="2.2" fill="#d9c3aa" fill-opacity="0.35" stroke="#9c7a58" stroke-width="0.8" stroke-opacity="0.85"/><circle cx="595.3" cy="414.3" r="2.2" fill="#d9c3aa" fill-opacity="0.35" stroke="#9c7a58" stroke-width="0.8" stroke-opacity="0.85"/><circle cx="596.2" cy="414.5" r="2.2" fill="#d9c3aa" fill-opacity="0.35" stroke="#9c7a58" stroke-width="0.8" stroke-opacity="0.85"/><circle cx="602.6" cy="408.8" r="2.2" fill="#d9c3aa" fill-opacity="0.35" stroke="#9c7a58" stroke-width="0.8" stroke-opacity="0.85"/><circle cx="634.2" cy="374.1" r="2.2" fill="#d9c3aa" fill-opacity="0.35" stroke="#9c7a58" stroke-width="0.8" stroke-opacity="0.85"/><circle cx="613.8" cy="396.3" r="2.2" fill="#d9c3aa" fill-opacity="0.35" stroke="#9c7a58" stroke-width="0.8" stroke-opacity="0.85"/><circle cx="618.2" cy="393.6" r="2.2" fill="#d9c3aa" fill-opacity="0.35" stroke="#9c7a58" stroke-width="0.8" stroke-opacity="0.85"/><circle cx="598.1" cy="414.0" r="2.2" fill="#d9c3aa" fill-opacity="0.35" stroke="#9c7a58" stroke-width="0.8" stroke-opacity="0.85"/><circle cx="666.5" cy="345.8" r="2.2" fill="#d9c3aa" fill-opacity="0.35" stroke="#9c7a58" stroke-width="0.8" stroke-opacity="0.85"/><circle cx="639.9" cy="381.0" r="2.2" fill="#d9c3aa" fill-opacity="0.35" stroke="#9c7a58" stroke-width="0.8" stroke-opacity="0.85"/><circle cx="601.8" cy="409.0" r="2.2" fill="#d9c3aa" fill-opacity="0.35" stroke="#9c7a58" stroke-width="0.8" stroke-opacity="0.85"/><circle cx="621.7" cy="389.1" r="2.2" fill="#d9c3aa" fill-opacity="0.35" stroke="#9c7a58" stroke-width="0.8" stroke-opacity="0.85"/><circle cx="594.1" cy="413.3" r="2.2" fill="#d9c3aa" fill-opacity="0.35" stroke="#9c7a58" stroke-width="0.8" stroke-opacity="0.85"/><circle cx="597.2" cy="412.5" r="2.2" fill="#d9c3aa" fill-opacity="0.35" stroke="#9c7a58" stroke-width="0.8" stroke-opacity="0.85"/><circle cx="623.4" cy="388.1" r="2.2" fill="#d9c3aa" fill-opacity="0.35" stroke="#9c7a58" stroke-width="0.8" stroke-opacity="0.85"/><circle cx="618.3" cy="390.1" r="2.2" fill="#d9c3aa" fill-opacity="0.35" stroke="#9c7a58" stroke-width="0.8" stroke-opacity="0.85"/><circle cx="616.0" cy="414.4" r="2.2" fill="#d9c3aa" fill-opacity="0.35" stroke="#9c7a58" stroke-width="0.8" stroke-opacity="0.85"/><circle cx="595.2" cy="413.5" r="2.2" fill="#d9c3aa" fill-opacity="0.35" stroke="#9c7a58" stroke-width="0.8" stroke-opacity="0.85"/><circle cx="607.9" cy="401.5" r="2.2" fill="#d9c3aa" fill-opacity="0.35" stroke="#9c7a58" stroke-width="0.8" stroke-opacity="0.85"/><circle cx="607.7" cy="403.9" r="2.2" fill="#d9c3aa" fill-opacity="0.35" stroke="#9c7a58" stroke-width="0.8" stroke-opacity="0.85"/><circle cx="609.3" cy="402.6" r="2.2" fill="#d9c3aa" fill-opacity="0.35" stroke="#9c7a58" stroke-width="0.8" stroke-opacity="0.85"/><circle cx="637.9" cy="376.6" r="2.2" fill="#d9c3aa" fill-opacity="0.35" stroke="#9c7a58" stroke-width="0.8" stroke-opacity="0.85"/><circle cx="630.1" cy="393.8" r="2.2" fill="#d9c3aa" fill-opacity="0.35" stroke="#9c7a58" stroke-width="0.8" stroke-opacity="0.85"/><circle cx="597.8" cy="411.1" r="2.2" fill="#d9c3aa" fill-opacity="0.35" stroke="#9c7a58" stroke-width="0.8" stroke-opacity="0.85"/><circle cx="607.0" cy="406.9" r="2.2" fill="#d9c3aa" fill-opacity="0.35" stroke="#9c7a58" stroke-width="0.8" stroke-opacity="0.85"/><circle cx="607.5" cy="402.4" r="2.2" fill="#d9c3aa" fill-opacity="0.35" stroke="#9c7a58" stroke-width="0.8" stroke-opacity="0.85"/><circle cx="624.6" cy="389.2" r="2.2" fill="#d9c3aa" fill-opacity="0.35" stroke="#9c7a58" stroke-width="0.8" stroke-opacity="0.85"/><circle cx="594.8" cy="413.8" r="2.2" fill="#d9c3aa" fill-opacity="0.35" stroke="#9c7a58" stroke-width="0.8" stroke-opacity="0.85"/><circle cx="603.8" cy="410.4" r="2.2" fill="#d9c3aa" fill-opacity="0.35" stroke="#9c7a58" stroke-width="0.8" stroke-opacity="0.85"/><circle cx="605.8" cy="403.8" r="2.2" fill="#d9c3aa" fill-opacity="0.35" stroke="#9c7a58" stroke-width="0.8" stroke-opacity="0.85"/><circle cx="604.5" cy="403.8" r="2.2" fill="#d9c3aa" fill-opacity="0.35" stroke="#9c7a58" stroke-width="0.8" stroke-opacity="0.85"/><circle cx="600.8" cy="409.0" r="2.2" fill="#d9c3aa" fill-opacity="0.35" stroke="#9c7a58" stroke-width="0.8" stroke-opacity="0.85"/><circle cx="612.0" cy="407.1" r="2.2" fill="#d9c3aa" fill-opacity="0.35" stroke="#9c7a58" stroke-width="0.8" stroke-opacity="0.85"/><circle cx="593.9" cy="414.9" r="2.2" fill="#d9c3aa" fill-opacity="0.35" stroke="#9c7a58" stroke-width="0.8" stroke-opacity="0.85"/><circle cx="615.9" cy="395.4" r="2.2" fill="#d9c3aa" fill-opacity="0.35" stroke="#9c7a58" stroke-width="0.8" stroke-opacity="0.85"/><circle cx="595.6" cy="412.3" r="2.2" fill="#d9c3aa" fill-opacity="0.35" stroke="#9c7a58" stroke-width="0.8" stroke-opacity="0.85"/><circle cx="596.0" cy="412.6" r="2.2" fill="#d9c3aa" fill-opacity="0.35" stroke="#9c7a58" stroke-width="0.8" stroke-opacity="0.85"/><circle cx="608.1" cy="402.3" r="2.2" fill="#d9c3aa" fill-opacity="0.35" stroke="#9c7a58" stroke-width="0.8" stroke-opacity="0.85"/><circle cx="602.6" cy="407.2" r="2.2" fill="#d9c3aa" fill-opacity="0.35" stroke="#9c7a58" stroke-width="0.8" stroke-opacity="0.85"/><circle cx="597.9" cy="410.9" r="2.2" fill="#d9c3aa" fill-opacity="0.35" stroke="#9c7a58" stroke-width="0.8" stroke-opacity="0.85"/><circle cx="613.1" cy="397.9" r="2.2" fill="#d9c3aa" fill-opacity="0.35" stroke="#9c7a58" stroke-width="0.8" stroke-opacity="0.85"/><circle cx="630.9" cy="382.3" r="2.2" fill="#d9c3aa" fill-opacity="0.35" stroke="#9c7a58" stroke-width="0.8" stroke-opacity="0.85"/><circle cx="619.5" cy="389.3" r="2.2" fill="#d9c3aa" fill-opacity="0.35" stroke="#9c7a58" stroke-width="0.8" stroke-opacity="0.85"/><circle cx="600.8" cy="411.7" r="2.2" fill="#d9c3aa" fill-opacity="0.35" stroke="#9c7a58" stroke-width="0.8" stroke-opacity="0.85"/><circle cx="598.2" cy="413.4" r="2.2" fill="#d9c3aa" fill-opacity="0.35" stroke="#9c7a58" stroke-width="0.8" stroke-opacity="0.85"/><circle cx="598.8" cy="410.9" r="2.2" fill="#d9c3aa" fill-opacity="0.35" stroke="#9c7a58" stroke-width="0.8" stroke-opacity="0.85"/><circle cx="599.3" cy="410.2" r="2.2" fill="#d9c3aa" fill-opacity="0.35" stroke="#9c7a58" stroke-width="0.8" stroke-opacity="0.85"/><circle cx="623.6" cy="388.5" r="2.2" fill="#d9c3aa" fill-opacity="0.35" stroke="#9c7a58" stroke-width="0.8" stroke-opacity="0.85"/><circle cx="603.4" cy="406.6" r="2.2" fill="#d9c3aa" fill-opacity="0.35" stroke="#9c7a58" stroke-width="0.8" stroke-opacity="0.85"/><circle cx="615.6" cy="395.0" r="2.2" fill="#d9c3aa" fill-opacity="0.35" stroke="#9c7a58" stroke-width="0.8" stroke-opacity="0.85"/><circle cx="660.0" cy="358.4" r="2.2" fill="#d9c3aa" fill-opacity="0.35" stroke="#9c7a58" stroke-width="0.8" stroke-opacity="0.85"/><circle cx="607.0" cy="402.1" r="2.2" fill="#d9c3aa" fill-opacity="0.35" stroke="#9c7a58" stroke-width="0.8" stroke-opacity="0.85"/><circle cx="597.5" cy="411.4" r="2.2" fill="#d9c3aa" fill-opacity="0.35" stroke="#9c7a58" stroke-width="0.8" stroke-opacity="0.85"/><circle cx="609.0" cy="400.4" r="2.2" fill="#d9c3aa" fill-opacity="0.35" stroke="#9c7a58" stroke-width="0.8" stroke-opacity="0.85"/><circle cx="609.7" cy="399.9" r="2.2" fill="#d9c3aa" fill-opacity="0.35" stroke="#9c7a58" stroke-width="0.8" stroke-opacity="0.85"/><circle cx="628.8" cy="387.9" r="2.2" fill="#d9c3aa" fill-opacity="0.35" stroke="#9c7a58" stroke-width="0.8" stroke-opacity="0.85"/><circle cx="643.9" cy="374.8" r="2.2" fill="#d9c3aa" fill-opacity="0.35" stroke="#9c7a58" stroke-width="0.8" stroke-opacity="0.85"/><circle cx="605.4" cy="402.8" r="2.2" fill="#d9c3aa" fill-opacity="0.35" stroke="#9c7a58" stroke-width="0.8" stroke-opacity="0.85"/><circle cx="601.1" cy="409.3" r="2.2" fill="#d9c3aa" fill-opacity="0.35" stroke="#9c7a58" stroke-width="0.8" stroke-opacity="0.85"/><circle cx="611.2" cy="398.2" r="2.2" fill="#d9c3aa" fill-opacity="0.35" stroke="#9c7a58" stroke-width="0.8" stroke-opacity="0.85"/><circle cx="616.8" cy="392.4" r="2.2" fill="#d9c3aa" fill-opacity="0.35" stroke="#9c7a58" stroke-width="0.8" stroke-opacity="0.85"/><circle cx="619.4" cy="392.5" r="2.2" fill="#d9c3aa" fill-opacity="0.35" stroke="#9c7a58" stroke-width="0.8" stroke-opacity="0.85"/><circle cx="597.7" cy="411.2" r="2.2" fill="#d9c3aa" fill-opacity="0.35" stroke="#9c7a58" stroke-width="0.8" stroke-opacity="0.85"/><circle cx="636.6" cy="374.2" r="2.2" fill="#d9c3aa" fill-opacity="0.35" stroke="#9c7a58" stroke-width="0.8" stroke-opacity="0.85"/><circle cx="617.0" cy="399.0" r="2.2" fill="#d9c3aa" fill-opacity="0.35" stroke="#9c7a58" stroke-width="0.8" stroke-opacity="0.85"/><circle cx="611.1" cy="399.6" r="2.2" fill="#d9c3aa" fill-opacity="0.35" stroke="#9c7a58" stroke-width="0.8" stroke-opacity="0.85"/><circle cx="671.6" cy="340.8" r="2.2" fill="#d9c3aa" fill-opacity="0.35" stroke="#9c7a58" stroke-width="0.8" stroke-opacity="0.85"/><circle cx="619.8" cy="386.4" r="2.2" fill="#d9c3aa" fill-opacity="0.35" stroke="#9c7a58" stroke-width="0.8" stroke-opacity="0.85"/><circle cx="626.0" cy="388.3" r="2.2" fill="#d9c3aa" fill-opacity="0.35" stroke="#9c7a58" stroke-width="0.8" stroke-opacity="0.85"/><circle cx="616.4" cy="395.7" r="2.2" fill="#d9c3aa" fill-opacity="0.35" stroke="#9c7a58" stroke-width="0.8" stroke-opacity="0.85"/><circle cx="621.4" cy="388.3" r="2.2" fill="#d9c3aa" fill-opacity="0.35" stroke="#9c7a58" stroke-width="0.8" stroke-opacity="0.85"/><circle cx="601.6" cy="407.8" r="2.2" fill="#d9c3aa" fill-opacity="0.35" stroke="#9c7a58" stroke-width="0.8" stroke-opacity="0.85"/><circle cx="593.7" cy="414.9" r="2.2" fill="#d9c3aa" fill-opacity="0.35" stroke="#9c7a58" stroke-width="0.8" stroke-opacity="0.85"/><circle cx="649.2" cy="365.5" r="2.2" fill="#d9c3aa" fill-opacity="0.35" stroke="#9c7a58" stroke-width="0.8" stroke-opacity="0.85"/><circle cx="601.4" cy="409.1" r="2.2" fill="#d9c3aa" fill-opacity="0.35" stroke="#9c7a58" stroke-width="0.8" stroke-opacity="0.85"/><circle cx="603.0" cy="409.9" r="2.2" fill="#d9c3aa" fill-opacity="0.35" stroke="#9c7a58" stroke-width="0.8" stroke-opacity="0.85"/><circle cx="613.3" cy="396.2" r="2.2" fill="#d9c3aa" fill-opacity="0.35" stroke="#9c7a58" stroke-width="0.8" stroke-opacity="0.85"/><circle cx="593.9" cy="414.3" r="2.2" fill="#d9c3aa" fill-opacity="0.35" stroke="#9c7a58" stroke-width="0.8" stroke-opacity="0.85"/><circle cx="599.2" cy="410.4" r="2.2" fill="#d9c3aa" fill-opacity="0.35" stroke="#9c7a58" stroke-width="0.8" stroke-opacity="0.85"/><circle cx="602.6" cy="406.6" r="2.2" fill="#d9c3aa" fill-opacity="0.35" stroke="#9c7a58" stroke-width="0.8" stroke-opacity="0.85"/><circle cx="599.1" cy="414.0" r="2.2" fill="#d9c3aa" fill-opacity="0.35" stroke="#9c7a58" stroke-width="0.8" stroke-opacity="0.85"/><circle cx="609.7" cy="402.8" r="2.2" fill="#d9c3aa" fill-opacity="0.35" stroke="#9c7a58" stroke-width="0.8" stroke-opacity="0.85"/><circle cx="613.1" cy="394.9" r="2.2" fill="#d9c3aa" fill-opacity="0.35" stroke="#9c7a58" stroke-width="0.8" stroke-opacity="0.85"/><circle cx="620.9" cy="390.2" r="2.2" fill="#d9c3aa" fill-opacity="0.35" stroke="#9c7a58" stroke-width="0.8" stroke-opacity="0.85"/><circle cx="644.8" cy="367.9" r="2.2" fill="#d9c3aa" fill-opacity="0.35" stroke="#9c7a58" stroke-width="0.8" stroke-opacity="0.85"/><circle cx="606.7" cy="402.5" r="2.2" fill="#d9c3aa" fill-opacity="0.35" stroke="#9c7a58" stroke-width="0.8" stroke-opacity="0.85"/><circle cx="594.7" cy="414.4" r="2.2" fill="#d9c3aa" fill-opacity="0.35" stroke="#9c7a58" stroke-width="0.8" stroke-opacity="0.85"/><circle cx="602.3" cy="407.5" r="2.2" fill="#d9c3aa" fill-opacity="0.35" stroke="#9c7a58" stroke-width="0.8" stroke-opacity="0.85"/><circle cx="614.0" cy="396.0" r="2.2" fill="#d9c3aa" fill-opacity="0.35" stroke="#9c7a58" stroke-width="0.8" stroke-opacity="0.85"/><circle cx="600.3" cy="410.9" r="2.2" fill="#d9c3aa" fill-opacity="0.35" stroke="#9c7a58" stroke-width="0.8" stroke-opacity="0.85"/><circle cx="598.9" cy="411.2" r="2.2" fill="#d9c3aa" fill-opacity="0.35" stroke="#9c7a58" stroke-width="0.8" stroke-opacity="0.85"/><circle cx="603.0" cy="414.3" r="2.2" fill="#d9c3aa" fill-opacity="0.35" stroke="#9c7a58" stroke-width="0.8" stroke-opacity="0.85"/><circle cx="594.5" cy="414.1" r="2.2" fill="#d9c3aa" fill-opacity="0.35" stroke="#9c7a58" stroke-width="0.8" stroke-opacity="0.85"/><circle cx="604.3" cy="404.8" r="2.2" fill="#d9c3aa" fill-opacity="0.35" stroke="#9c7a58" stroke-width="0.8" stroke-opacity="0.85"/><circle cx="663.2" cy="358.6" r="2.2" fill="#d9c3aa" fill-opacity="0.35" stroke="#9c7a58" stroke-width="0.8" stroke-opacity="0.85"/><circle cx="618.2" cy="392.0" r="2.2" fill="#d9c3aa" fill-opacity="0.35" stroke="#9c7a58" stroke-width="0.8" stroke-opacity="0.85"/><circle cx="667.7" cy="345.4" r="2.2" fill="#d9c3aa" fill-opacity="0.35" stroke="#9c7a58" stroke-width="0.8" stroke-opacity="0.85"/><circle cx="612.4" cy="397.5" r="2.2" fill="#d9c3aa" fill-opacity="0.35" stroke="#9c7a58" stroke-width="0.8" stroke-opacity="0.85"/><circle cx="597.9" cy="411.5" r="2.2" fill="#d9c3aa" fill-opacity="0.35" stroke="#9c7a58" stroke-width="0.8" stroke-opacity="0.85"/><circle cx="604.8" cy="404.3" r="2.2" fill="#d9c3aa" fill-opacity="0.35" stroke="#9c7a58" stroke-width="0.8" stroke-opacity="0.85"/><circle cx="605.2" cy="405.3" r="2.2" fill="#d9c3aa" fill-opacity="0.35" stroke="#9c7a58" stroke-width="0.8" stroke-opacity="0.85"/><circle cx="622.5" cy="388.4" r="2.2" fill="#d9c3aa" fill-opacity="0.35" stroke="#9c7a58" stroke-width="0.8" stroke-opacity="0.85"/><circle cx="662.8" cy="348.8" r="2.2" fill="#d9c3aa" fill-opacity="0.35" stroke="#9c7a58" stroke-width="0.8" stroke-opacity="0.85"/><circle cx="636.5" cy="373.1" r="2.2" fill="#d9c3aa" fill-opacity="0.35" stroke="#9c7a58" stroke-width="0.8" stroke-opacity="0.85"/><circle cx="612.4" cy="397.2" r="2.2" fill="#d9c3aa" fill-opacity="0.35" stroke="#9c7a58" stroke-width="0.8" stroke-opacity="0.85"/><circle cx="609.5" cy="402.6" r="2.2" fill="#d9c3aa" fill-opacity="0.35" stroke="#9c7a58" stroke-width="0.8" stroke-opacity="0.85"/><circle cx="612.8" cy="396.6" r="2.2" fill="#d9c3aa" fill-opacity="0.35" stroke="#9c7a58" stroke-width="0.8" stroke-opacity="0.85"/><circle cx="668.6" cy="354.6" r="2.2" fill="#d9c3aa" fill-opacity="0.35" stroke="#9c7a58" stroke-width="0.8" stroke-opacity="0.85"/><circle cx="634.1" cy="378.2" r="2.2" fill="#d9c3aa" fill-opacity="0.35" stroke="#9c7a58" stroke-width="0.8" stroke-opacity="0.85"/><circle cx="604.2" cy="405.2" r="2.2" fill="#d9c3aa" fill-opacity="0.35" stroke="#9c7a58" stroke-width="0.8" stroke-opacity="0.85"/><circle cx="595.6" cy="413.5" r="2.2" fill="#d9c3aa" fill-opacity="0.35" stroke="#9c7a58" stroke-width="0.8" stroke-opacity="0.85"/><circle cx="615.2" cy="394.5" r="2.2" fill="#d9c3aa" fill-opacity="0.35" stroke="#9c7a58" stroke-width="0.8" stroke-opacity="0.85"/><circle cx="612.7" cy="398.0" r="2.2" fill="#d9c3aa" fill-opacity="0.35" stroke="#9c7a58" stroke-width="0.8" stroke-opacity="0.85"/><circle cx="601.6" cy="407.7" r="2.2" fill="#d9c3aa" fill-opacity="0.35" stroke="#9c7a58" stroke-width="0.8" stroke-opacity="0.85"/><circle cx="628.6" cy="385.1" r="2.2" fill="#d9c3aa" fill-opacity="0.35" stroke="#9c7a58" stroke-width="0.8" stroke-opacity="0.85"/><circle cx="612.3" cy="395.5" r="2.2" fill="#d9c3aa" fill-opacity="0.35" stroke="#9c7a58" stroke-width="0.8" stroke-opacity="0.85"/><circle cx="598.1" cy="410.7" r="2.2" fill="#d9c3aa" fill-opacity="0.35" stroke="#9c7a58" stroke-width="0.8" stroke-opacity="0.85"/><circle cx="602.4" cy="409.5" r="2.2" fill="#d9c3aa" fill-opacity="0.35" stroke="#9c7a58" stroke-width="0.8" stroke-opacity="0.85"/><circle cx="617.2" cy="392.3" r="2.2" fill="#d9c3aa" fill-opacity="0.35" stroke="#9c7a58" stroke-width="0.8" stroke-opacity="0.85"/><circle cx="604.2" cy="408.6" r="2.2" fill="#d9c3aa" fill-opacity="0.35" stroke="#9c7a58" stroke-width="0.8" stroke-opacity="0.85"/><circle cx="595.5" cy="414.5" r="2.2" fill="#d9c3aa" fill-opacity="0.35" stroke="#9c7a58" stroke-width="0.8" stroke-opacity="0.85"/><circle cx="606.3" cy="403.0" r="2.2" fill="#d9c3aa" fill-opacity="0.35" stroke="#9c7a58" stroke-width="0.8" stroke-opacity="0.85"/><circle cx="600.3" cy="408.3" r="2.2" fill="#d9c3aa" fill-opacity="0.35" stroke="#9c7a58" stroke-width="0.8" stroke-opacity="0.85"/><circle cx="614.4" cy="395.6" r="2.2" fill="#d9c3aa" fill-opacity="0.35" stroke="#9c7a58" stroke-width="0.8" stroke-opacity="0.85"/><circle cx="600.5" cy="409.2" r="2.2" fill="#d9c3aa" fill-opacity="0.35" stroke="#9c7a58" stroke-width="0.8" stroke-opacity="0.85"/><circle cx="596.5" cy="413.2" r="2.2" fill="#d9c3aa" fill-opacity="0.35" stroke="#9c7a58" stroke-width="0.8" stroke-opacity="0.85"/><circle cx="618.4" cy="393.8" r="2.2" fill="#d9c3aa" fill-opacity="0.35" stroke="#9c7a58" stroke-width="0.8" stroke-opacity="0.85"/><circle cx="609.7" cy="407.9" r="2.2" fill="#d9c3aa" fill-opacity="0.35" stroke="#9c7a58" stroke-width="0.8" stroke-opacity="0.85"/><circle cx="647.7" cy="385.1" r="2.2" fill="#d9c3aa" fill-opacity="0.35" stroke="#9c7a58" stroke-width="0.8" stroke-opacity="0.85"/><circle cx="600.5" cy="409.3" r="2.2" fill="#d9c3aa" fill-opacity="0.35" stroke="#9c7a58" stroke-width="0.8" stroke-opacity="0.85"/><circle cx="603.3" cy="410.1" r="2.2" fill="#d9c3aa" fill-opacity="0.35" stroke="#9c7a58" stroke-width="0.8" stroke-opacity="0.85"/><circle cx="602.1" cy="407.4" r="2.2" fill="#d9c3aa" fill-opacity="0.35" stroke="#9c7a58" stroke-width="0.8" stroke-opacity="0.85"/><circle cx="602.2" cy="407.4" r="2.2" fill="#d9c3aa" fill-opacity="0.35" stroke="#9c7a58" stroke-width="0.8" stroke-opacity="0.85"/><circle cx="609.5" cy="399.6" r="2.2" fill="#d9c3aa" fill-opacity="0.35" stroke="#9c7a58" stroke-width="0.8" stroke-opacity="0.85"/><circle cx="608.5" cy="402.0" r="2.2" fill="#d9c3aa" fill-opacity="0.35" stroke="#9c7a58" stroke-width="0.8" stroke-opacity="0.85"/><circle cx="620.9" cy="391.4" r="2.2" fill="#d9c3aa" fill-opacity="0.35" stroke="#9c7a58" stroke-width="0.8" stroke-opacity="0.85"/><circle cx="599.9" cy="410.8" r="2.2" fill="#d9c3aa" fill-opacity="0.35" stroke="#9c7a58" stroke-width="0.8" stroke-opacity="0.85"/><circle cx="609.6" cy="401.0" r="2.2" fill="#d9c3aa" fill-opacity="0.35" stroke="#9c7a58" stroke-width="0.8" stroke-opacity="0.85"/><circle cx="613.8" cy="394.2" r="2.2" fill="#d9c3aa" fill-opacity="0.35" stroke="#9c7a58" stroke-width="0.8" stroke-opacity="0.85"/><circle cx="623.4" cy="387.5" r="2.2" fill="#d9c3aa" fill-opacity="0.35" stroke="#9c7a58" stroke-width="0.8" stroke-opacity="0.85"/><circle cx="595.1" cy="413.7" r="2.2" fill="#d9c3aa" fill-opacity="0.35" stroke="#9c7a58" stroke-width="0.8" stroke-opacity="0.85"/><circle cx="612.9" cy="396.9" r="2.2" fill="#d9c3aa" fill-opacity="0.35" stroke="#9c7a58" stroke-width="0.8" stroke-opacity="0.85"/><circle cx="619.9" cy="389.6" r="2.2" fill="#d9c3aa" fill-opacity="0.35" stroke="#9c7a58" stroke-width="0.8" stroke-opacity="0.85"/><circle cx="621.4" cy="389.9" r="2.2" fill="#d9c3aa" fill-opacity="0.35" stroke="#9c7a58" stroke-width="0.8" stroke-opacity="0.85"/><circle cx="621.4" cy="391.7" r="2.2" fill="#d9c3aa" fill-opacity="0.35" stroke="#9c7a58" stroke-width="0.8" stroke-opacity="0.85"/><circle cx="615.0" cy="399.4" r="2.2" fill="#d9c3aa" fill-opacity="0.35" stroke="#9c7a58" stroke-width="0.8" stroke-opacity="0.85"/><circle cx="608.3" cy="402.2" r="2.2" fill="#d9c3aa" fill-opacity="0.35" stroke="#9c7a58" stroke-width="0.8" stroke-opacity="0.85"/><circle cx="603.7" cy="408.6" r="2.2" fill="#d9c3aa" fill-opacity="0.35" stroke="#9c7a58" stroke-width="0.8" stroke-opacity="0.85"/><circle cx="614.7" cy="400.6" r="2.2" fill="#d9c3aa" fill-opacity="0.35" stroke="#9c7a58" stroke-width="0.8" stroke-opacity="0.85"/><circle cx="635.8" cy="394.9" r="2.2" fill="#d9c3aa" fill-opacity="0.35" stroke="#9c7a58" stroke-width="0.8" stroke-opacity="0.85"/><circle cx="613.2" cy="397.0" r="2.2" fill="#d9c3aa" fill-opacity="0.35" stroke="#9c7a58" stroke-width="0.8" stroke-opacity="0.85"/><circle cx="604.0" cy="407.9" r="2.2" fill="#d9c3aa" fill-opacity="0.35" stroke="#9c7a58" stroke-width="0.8" stroke-opacity="0.85"/><circle cx="596.5" cy="411.6" r="2.2" fill="#d9c3aa" fill-opacity="0.35" stroke="#9c7a58" stroke-width="0.8" stroke-opacity="0.85"/><circle cx="597.0" cy="411.7" r="2.2" fill="#d9c3aa" fill-opacity="0.35" stroke="#9c7a58" stroke-width="0.8" stroke-opacity="0.85"/><circle cx="604.2" cy="405.3" r="2.2" fill="#d9c3aa" fill-opacity="0.35" stroke="#9c7a58" stroke-width="0.8" stroke-opacity="0.85"/><circle cx="600.6" cy="408.2" r="2.2" fill="#d9c3aa" fill-opacity="0.35" stroke="#9c7a58" stroke-width="0.8" stroke-opacity="0.85"/><circle cx="613.6" cy="396.0" r="2.2" fill="#d9c3aa" fill-opacity="0.35" stroke="#9c7a58" stroke-width="0.8" stroke-opacity="0.85"/><circle cx="605.3" cy="404.2" r="2.2" fill="#d9c3aa" fill-opacity="0.35" stroke="#9c7a58" stroke-width="0.8" stroke-opacity="0.85"/><circle cx="639.7" cy="372.2" r="2.2" fill="#d9c3aa" fill-opacity="0.35" stroke="#9c7a58" stroke-width="0.8" stroke-opacity="0.85"/><circle cx="598.2" cy="411.0" r="2.2" fill="#d9c3aa" fill-opacity="0.35" stroke="#9c7a58" stroke-width="0.8" stroke-opacity="0.85"/><circle cx="617.8" cy="391.8" r="2.2" fill="#d9c3aa" fill-opacity="0.35" stroke="#9c7a58" stroke-width="0.8" stroke-opacity="0.85"/><circle cx="599.9" cy="409.8" r="2.2" fill="#d9c3aa" fill-opacity="0.35" stroke="#9c7a58" stroke-width="0.8" stroke-opacity="0.85"/><circle cx="620.8" cy="393.2" r="2.2" fill="#d9c3aa" fill-opacity="0.35" stroke="#9c7a58" stroke-width="0.8" stroke-opacity="0.85"/><circle cx="606.1" cy="403.9" r="2.2" fill="#d9c3aa" fill-opacity="0.35" stroke="#9c7a58" stroke-width="0.8" stroke-opacity="0.85"/><circle cx="635.6" cy="382.8" r="2.2" fill="#d9c3aa" fill-opacity="0.35" stroke="#9c7a58" stroke-width="0.8" stroke-opacity="0.85"/><circle cx="654.1" cy="361.0" r="2.2" fill="#d9c3aa" fill-opacity="0.35" stroke="#9c7a58" stroke-width="0.8" stroke-opacity="0.85"/><circle cx="598.3" cy="412.8" r="2.2" fill="#d9c3aa" fill-opacity="0.35" stroke="#9c7a58" stroke-width="0.8" stroke-opacity="0.85"/><circle cx="602.9" cy="407.0" r="2.2" fill="#d9c3aa" fill-opacity="0.35" stroke="#9c7a58" stroke-width="0.8" stroke-opacity="0.85"/><circle cx="607.5" cy="404.3" r="2.2" fill="#d9c3aa" fill-opacity="0.35" stroke="#9c7a58" stroke-width="0.8" stroke-opacity="0.85"/><circle cx="598.7" cy="410.1" r="2.2" fill="#d9c3aa" fill-opacity="0.35" stroke="#9c7a58" stroke-width="0.8" stroke-opacity="0.85"/><circle cx="605.8" cy="404.0" r="2.2" fill="#d9c3aa" fill-opacity="0.35" stroke="#9c7a58" stroke-width="0.8" stroke-opacity="0.85"/><circle cx="611.4" cy="400.9" r="2.2" fill="#d9c3aa" fill-opacity="0.35" stroke="#9c7a58" stroke-width="0.8" stroke-opacity="0.85"/><circle cx="596.8" cy="412.0" r="2.2" fill="#d9c3aa" fill-opacity="0.35" stroke="#9c7a58" stroke-width="0.8" stroke-opacity="0.85"/><circle cx="607.5" cy="405.4" r="2.2" fill="#d9c3aa" fill-opacity="0.35" stroke="#9c7a58" stroke-width="0.8" stroke-opacity="0.85"/><circle cx="612.9" cy="398.5" r="2.2" fill="#d9c3aa" fill-opacity="0.35" stroke="#9c7a58" stroke-width="0.8" stroke-opacity="0.85"/><circle cx="593.5" cy="414.1" r="2.2" fill="#d9c3aa" fill-opacity="0.35" stroke="#9c7a58" stroke-width="0.8" stroke-opacity="0.85"/><circle cx="629.6" cy="379.5" r="2.2" fill="#d9c3aa" fill-opacity="0.35" stroke="#9c7a58" stroke-width="0.8" stroke-opacity="0.85"/><circle cx="617.8" cy="392.6" r="2.2" fill="#d9c3aa" fill-opacity="0.35" stroke="#9c7a58" stroke-width="0.8" stroke-opacity="0.85"/><circle cx="606.1" cy="405.2" r="2.2" fill="#d9c3aa" fill-opacity="0.35" stroke="#9c7a58" stroke-width="0.8" stroke-opacity="0.85"/><circle cx="631.0" cy="380.0" r="2.2" fill="#d9c3aa" fill-opacity="0.35" stroke="#9c7a58" stroke-width="0.8" stroke-opacity="0.85"/><circle cx="623.5" cy="387.1" r="2.2" fill="#d9c3aa" fill-opacity="0.35" stroke="#9c7a58" stroke-width="0.8" stroke-opacity="0.85"/><circle cx="627.2" cy="383.1" r="2.2" fill="#d9c3aa" fill-opacity="0.35" stroke="#9c7a58" stroke-width="0.8" stroke-opacity="0.85"/><circle cx="608.6" cy="402.5" r="2.2" fill="#d9c3aa" fill-opacity="0.35" stroke="#9c7a58" stroke-width="0.8" stroke-opacity="0.85"/><circle cx="600.7" cy="410.6" r="2.2" fill="#d9c3aa" fill-opacity="0.35" stroke="#9c7a58" stroke-width="0.8" stroke-opacity="0.85"/><circle cx="595.0" cy="414.7" r="2.2" fill="#d9c3aa" fill-opacity="0.35" stroke="#9c7a58" stroke-width="0.8" stroke-opacity="0.85"/><circle cx="615.9" cy="394.2" r="2.2" fill="#d9c3aa" fill-opacity="0.35" stroke="#9c7a58" stroke-width="0.8" stroke-opacity="0.85"/><circle cx="603.2" cy="408.8" r="2.2" fill="#d9c3aa" fill-opacity="0.35" stroke="#9c7a58" stroke-width="0.8" stroke-opacity="0.85"/><circle cx="613.9" cy="396.2" r="2.2" fill="#d9c3aa" fill-opacity="0.35" stroke="#9c7a58" stroke-width="0.8" stroke-opacity="0.85"/><circle cx="602.6" cy="406.7" r="2.2" fill="#d9c3aa" fill-opacity="0.35" stroke="#9c7a58" stroke-width="0.8" stroke-opacity="0.85"/><circle cx="605.3" cy="405.9" r="2.2" fill="#d9c3aa" fill-opacity="0.35" stroke="#9c7a58" stroke-width="0.8" stroke-opacity="0.85"/><circle cx="651.7" cy="361.5" r="2.2" fill="#d9c3aa" fill-opacity="0.35" stroke="#9c7a58" stroke-width="0.8" stroke-opacity="0.85"/><circle cx="602.6" cy="407.2" r="2.2" fill="#d9c3aa" fill-opacity="0.35" stroke="#9c7a58" stroke-width="0.8" stroke-opacity="0.85"/><circle cx="600.3" cy="410.2" r="2.2" fill="#d9c3aa" fill-opacity="0.35" stroke="#9c7a58" stroke-width="0.8" stroke-opacity="0.85"/><circle cx="599.2" cy="410.9" r="2.2" fill="#d9c3aa" fill-opacity="0.35" stroke="#9c7a58" stroke-width="0.8" stroke-opacity="0.85"/><circle cx="618.8" cy="393.6" r="2.2" fill="#d9c3aa" fill-opacity="0.35" stroke="#9c7a58" stroke-width="0.8" stroke-opacity="0.85"/><circle cx="618.3" cy="392.2" r="2.2" fill="#d9c3aa" fill-opacity="0.35" stroke="#9c7a58" stroke-width="0.8" stroke-opacity="0.85"/><circle cx="627.3" cy="383.3" r="2.2" fill="#d9c3aa" fill-opacity="0.35" stroke="#9c7a58" stroke-width="0.8" stroke-opacity="0.85"/><circle cx="615.3" cy="394.0" r="2.2" fill="#d9c3aa" fill-opacity="0.35" stroke="#9c7a58" stroke-width="0.8" stroke-opacity="0.85"/><circle cx="597.3" cy="412.3" r="2.2" fill="#d9c3aa" fill-opacity="0.35" stroke="#9c7a58" stroke-width="0.8" stroke-opacity="0.85"/><circle cx="595.3" cy="414.7" r="2.2" fill="#d9c3aa" fill-opacity="0.35" stroke="#9c7a58" stroke-width="0.8" stroke-opacity="0.85"/><circle cx="596.8" cy="412.3" r="2.2" fill="#d9c3aa" fill-opacity="0.35" stroke="#9c7a58" stroke-width="0.8" stroke-opacity="0.85"/><circle cx="642.3" cy="368.8" r="2.2" fill="#d9c3aa" fill-opacity="0.35" stroke="#9c7a58" stroke-width="0.8" stroke-opacity="0.85"/><circle cx="607.3" cy="402.1" r="2.2" fill="#d9c3aa" fill-opacity="0.35" stroke="#9c7a58" stroke-width="0.8" stroke-opacity="0.85"/><circle cx="602.9" cy="409.1" r="2.2" fill="#d9c3aa" fill-opacity="0.35" stroke="#9c7a58" stroke-width="0.8" stroke-opacity="0.85"/><circle cx="603.7" cy="407.3" r="2.2" fill="#d9c3aa" fill-opacity="0.35" stroke="#9c7a58" stroke-width="0.8" stroke-opacity="0.85"/><circle cx="670.8" cy="338.2" r="2.2" fill="#d9c3aa" fill-opacity="0.35" stroke="#9c7a58" stroke-width="0.8" stroke-opacity="0.85"/><circle cx="614.3" cy="397.0" r="2.2" fill="#d9c3aa" fill-opacity="0.35" stroke="#9c7a58" stroke-width="0.8" stroke-opacity="0.85"/><circle cx="601.6" cy="407.4" r="2.2" fill="#d9c3aa" fill-opacity="0.35" stroke="#9c7a58" stroke-width="0.8" stroke-opacity="0.85"/><circle cx="595.7" cy="414.2" r="2.2" fill="#d9c3aa" fill-opacity="0.35" stroke="#9c7a58" stroke-width="0.8" stroke-opacity="0.85"/><circle cx="611.7" cy="397.7" r="2.2" fill="#d9c3aa" fill-opacity="0.35" stroke="#9c7a58" stroke-width="0.8" stroke-opacity="0.85"/><circle cx="621.5" cy="396.8" r="2.2" fill="#d9c3aa" fill-opacity="0.35" stroke="#9c7a58" stroke-width="0.8" stroke-opacity="0.85"/><circle cx="606.9" cy="402.6" r="2.2" fill="#d9c3aa" fill-opacity="0.35" stroke="#9c7a58" stroke-width="0.8" stroke-opacity="0.85"/><circle cx="617.6" cy="406.0" r="2.2" fill="#d9c3aa" fill-opacity="0.35" stroke="#9c7a58" stroke-width="0.8" stroke-opacity="0.85"/><circle cx="628.3" cy="382.0" r="2.2" fill="#d9c3aa" fill-opacity="0.35" stroke="#9c7a58" stroke-width="0.8" stroke-opacity="0.85"/><circle cx="649.3" cy="361.8" r="2.2" fill="#d9c3aa" fill-opacity="0.35" stroke="#9c7a58" stroke-width="0.8" stroke-opacity="0.85"/><circle cx="598.9" cy="410.4" r="2.2" fill="#d9c3aa" fill-opacity="0.35" stroke="#9c7a58" stroke-width="0.8" stroke-opacity="0.85"/><circle cx="616.5" cy="394.8" r="2.2" fill="#d9c3aa" fill-opacity="0.35" stroke="#9c7a58" stroke-width="0.8" stroke-opacity="0.85"/><circle cx="605.5" cy="404.2" r="2.2" fill="#d9c3aa" fill-opacity="0.35" stroke="#9c7a58" stroke-width="0.8" stroke-opacity="0.85"/><circle cx="663.5" cy="352.4" r="2.2" fill="#d9c3aa" fill-opacity="0.35" stroke="#9c7a58" stroke-width="0.8" stroke-opacity="0.85"/><circle cx="609.3" cy="401.1" r="2.2" fill="#d9c3aa" fill-opacity="0.35" stroke="#9c7a58" stroke-width="0.8" stroke-opacity="0.85"/><circle cx="599.4" cy="414.4" r="2.2" fill="#d9c3aa" fill-opacity="0.35" stroke="#9c7a58" stroke-width="0.8" stroke-opacity="0.85"/><circle cx="596.0" cy="413.3" r="2.2" fill="#d9c3aa" fill-opacity="0.35" stroke="#9c7a58" stroke-width="0.8" stroke-opacity="0.85"/><circle cx="600.1" cy="409.7" r="2.2" fill="#d9c3aa" fill-opacity="0.35" stroke="#9c7a58" stroke-width="0.8" stroke-opacity="0.85"/><circle cx="627.7" cy="385.8" r="2.2" fill="#d9c3aa" fill-opacity="0.35" stroke="#9c7a58" stroke-width="0.8" stroke-opacity="0.85"/><circle cx="608.8" cy="401.5" r="2.2" fill="#d9c3aa" fill-opacity="0.35" stroke="#9c7a58" stroke-width="0.8" stroke-opacity="0.85"/><circle cx="661.9" cy="349.8" r="2.2" fill="#d9c3aa" fill-opacity="0.35" stroke="#9c7a58" stroke-width="0.8" stroke-opacity="0.85"/><circle cx="600.6" cy="408.3" r="2.2" fill="#d9c3aa" fill-opacity="0.35" stroke="#9c7a58" stroke-width="0.8" stroke-opacity="0.85"/><circle cx="610.8" cy="400.5" r="2.2" fill="#d9c3aa" fill-opacity="0.35" stroke="#9c7a58" stroke-width="0.8" stroke-opacity="0.85"/><circle cx="593.8" cy="414.7" r="2.2" fill="#d9c3aa" fill-opacity="0.35" stroke="#9c7a58" stroke-width="0.8" stroke-opacity="0.85"/><circle cx="609.7" cy="399.6" r="2.2" fill="#d9c3aa" fill-opacity="0.35" stroke="#9c7a58" stroke-width="0.8" stroke-opacity="0.85"/><circle cx="607.6" cy="402.9" r="2.2" fill="#d9c3aa" fill-opacity="0.35" stroke="#9c7a58" stroke-width="0.8" stroke-opacity="0.85"/><circle cx="613.3" cy="396.8" r="2.2" fill="#d9c3aa" fill-opacity="0.35" stroke="#9c7a58" stroke-width="0.8" stroke-opacity="0.85"/><circle cx="614.9" cy="397.3" r="2.2" fill="#d9c3aa" fill-opacity="0.35" stroke="#9c7a58" stroke-width="0.8" stroke-opacity="0.85"/><circle cx="605.7" cy="403.8" r="2.2" fill="#d9c3aa" fill-opacity="0.35" stroke="#9c7a58" stroke-width="0.8" stroke-opacity="0.85"/><circle cx="612.3" cy="397.0" r="2.2" fill="#d9c3aa" fill-opacity="0.35" stroke="#9c7a58" stroke-width="0.8" stroke-opacity="0.85"/><circle cx="606.3" cy="414.9" r="2.2" fill="#d9c3aa" fill-opacity="0.35" stroke="#9c7a58" stroke-width="0.8" stroke-opacity="0.85"/><circle cx="628.6" cy="391.0" r="2.2" fill="#d9c3aa" fill-opacity="0.35" stroke="#9c7a58" stroke-width="0.8" stroke-opacity="0.85"/><circle cx="609.6" cy="404.4" r="2.2" fill="#d9c3aa" fill-opacity="0.35" stroke="#9c7a58" stroke-width="0.8" stroke-opacity="0.85"/><circle cx="607.9" cy="404.9" r="2.2" fill="#d9c3aa" fill-opacity="0.35" stroke="#9c7a58" stroke-width="0.8" stroke-opacity="0.85"/><circle cx="600.9" cy="409.2" r="2.2" fill="#d9c3aa" fill-opacity="0.35" stroke="#9c7a58" stroke-width="0.8" stroke-opacity="0.85"/><circle cx="618.4" cy="393.0" r="2.2" fill="#d9c3aa" fill-opacity="0.35" stroke="#9c7a58" stroke-width="0.8" stroke-opacity="0.85"/><circle cx="620.3" cy="392.5" r="2.2" fill="#d9c3aa" fill-opacity="0.35" stroke="#9c7a58" stroke-width="0.8" stroke-opacity="0.85"/><circle cx="610.8" cy="399.9" r="2.2" fill="#d9c3aa" fill-opacity="0.35" stroke="#9c7a58" stroke-width="0.8" stroke-opacity="0.85"/><circle cx="607.0" cy="403.5" r="2.2" fill="#d9c3aa" fill-opacity="0.35" stroke="#9c7a58" stroke-width="0.8" stroke-opacity="0.85"/><circle cx="594.5" cy="414.9" r="2.2" fill="#d9c3aa" fill-opacity="0.35" stroke="#9c7a58" stroke-width="0.8" stroke-opacity="0.85"/><circle cx="600.5" cy="408.4" r="2.2" fill="#d9c3aa" fill-opacity="0.35" stroke="#9c7a58" stroke-width="0.8" stroke-opacity="0.85"/><circle cx="598.7" cy="413.3" r="2.2" fill="#d9c3aa" fill-opacity="0.35" stroke="#9c7a58" stroke-width="0.8" stroke-opacity="0.85"/><circle cx="614.6" cy="406.6" r="2.2" fill="#d9c3aa" fill-opacity="0.35" stroke="#9c7a58" stroke-width="0.8" stroke-opacity="0.85"/><circle cx="604.0" cy="405.1" r="2.2" fill="#d9c3aa" fill-opacity="0.35" stroke="#9c7a58" stroke-width="0.8" stroke-opacity="0.85"/><circle cx="609.6" cy="412.3" r="2.2" fill="#d9c3aa" fill-opacity="0.35" stroke="#9c7a58" stroke-width="0.8" stroke-opacity="0.85"/><circle cx="595.5" cy="412.7" r="2.2" fill="#d9c3aa" fill-opacity="0.35" stroke="#9c7a58" stroke-width="0.8" stroke-opacity="0.85"/><circle cx="651.6" cy="362.6" r="2.2" fill="#d9c3aa" fill-opacity="0.35" stroke="#9c7a58" stroke-width="0.8" stroke-opacity="0.85"/><circle cx="598.9" cy="410.0" r="2.2" fill="#d9c3aa" fill-opacity="0.35" stroke="#9c7a58" stroke-width="0.8" stroke-opacity="0.85"/><circle cx="636.9" cy="373.1" r="2.2" fill="#d9c3aa" fill-opacity="0.35" stroke="#9c7a58" stroke-width="0.8" stroke-opacity="0.85"/><circle cx="603.3" cy="406.0" r="2.2" fill="#d9c3aa" fill-opacity="0.35" stroke="#9c7a58" stroke-width="0.8" stroke-opacity="0.85"/><circle cx="594.1" cy="414.8" r="2.2" fill="#d9c3aa" fill-opacity="0.35" stroke="#9c7a58" stroke-width="0.8" stroke-opacity="0.85"/><circle cx="606.8" cy="410.7" r="2.2" fill="#d9c3aa" fill-opacity="0.35" stroke="#9c7a58" stroke-width="0.8" stroke-opacity="0.85"/><circle cx="598.0" cy="410.9" r="2.2" fill="#d9c3aa" fill-opacity="0.35" stroke="#9c7a58" stroke-width="0.8" stroke-opacity="0.85"/><circle cx="642.8" cy="376.0" r="2.2" fill="#d9c3aa" fill-opacity="0.35" stroke="#9c7a58" stroke-width="0.8" stroke-opacity="0.85"/><circle cx="601.9" cy="409.8" r="2.2" fill="#d9c3aa" fill-opacity="0.35" stroke="#9c7a58" stroke-width="0.8" stroke-opacity="0.85"/><circle cx="597.1" cy="414.4" r="2.2" fill="#d9c3aa" fill-opacity="0.35" stroke="#9c7a58" stroke-width="0.8" stroke-opacity="0.85"/><circle cx="597.6" cy="411.8" r="2.2" fill="#d9c3aa" fill-opacity="0.35" stroke="#9c7a58" stroke-width="0.8" stroke-opacity="0.85"/><circle cx="594.5" cy="414.2" r="2.2" fill="#d9c3aa" fill-opacity="0.35" stroke="#9c7a58" stroke-width="0.8" stroke-opacity="0.85"/><circle cx="637.9" cy="382.8" r="2.2" fill="#d9c3aa" fill-opacity="0.35" stroke="#9c7a58" stroke-width="0.8" stroke-opacity="0.85"/><circle cx="617.6" cy="393.7" r="2.2" fill="#d9c3aa" fill-opacity="0.35" stroke="#9c7a58" stroke-width="0.8" stroke-opacity="0.85"/><circle cx="604.8" cy="408.0" r="2.2" fill="#d9c3aa" fill-opacity="0.35" stroke="#9c7a58" stroke-width="0.8" stroke-opacity="0.85"/><circle cx="598.4" cy="410.5" r="2.2" fill="#d9c3aa" fill-opacity="0.35" stroke="#9c7a58" stroke-width="0.8" stroke-opacity="0.85"/><circle cx="597.3" cy="412.2" r="2.2" fill="#d9c3aa" fill-opacity="0.35" stroke="#9c7a58" stroke-width="0.8" stroke-opacity="0.85"/><circle cx="614.5" cy="397.0" r="2.2" fill="#d9c3aa" fill-opacity="0.35" stroke="#9c7a58" stroke-width="0.8" stroke-opacity="0.85"/><circle cx="635.1" cy="378.4" r="2.2" fill="#d9c3aa" fill-opacity="0.35" stroke="#9c7a58" stroke-width="0.8" stroke-opacity="0.85"/><circle cx="598.5" cy="412.1" r="2.2" fill="#d9c3aa" fill-opacity="0.35" stroke="#9c7a58" stroke-width="0.8" stroke-opacity="0.85"/><circle cx="599.7" cy="410.0" r="2.2" fill="#d9c3aa" fill-opacity="0.35" stroke="#9c7a58" stroke-width="0.8" stroke-opacity="0.85"/><circle cx="595.3" cy="414.5" r="2.2" fill="#d9c3aa" fill-opacity="0.35" stroke="#9c7a58" stroke-width="0.8" stroke-opacity="0.85"/><circle cx="594.4" cy="414.7" r="2.2" fill="#d9c3aa" fill-opacity="0.35" stroke="#9c7a58" stroke-width="0.8" stroke-opacity="0.85"/><circle cx="599.9" cy="409.0" r="2.2" fill="#d9c3aa" fill-opacity="0.35" stroke="#9c7a58" stroke-width="0.8" stroke-opacity="0.85"/><circle cx="600.0" cy="409.9" r="2.2" fill="#d9c3aa" fill-opacity="0.35" stroke="#9c7a58" stroke-width="0.8" stroke-opacity="0.85"/><circle cx="598.9" cy="410.7" r="2.2" fill="#d9c3aa" fill-opacity="0.35" stroke="#9c7a58" stroke-width="0.8" stroke-opacity="0.85"/><circle cx="637.3" cy="375.6" r="2.2" fill="#d9c3aa" fill-opacity="0.35" stroke="#9c7a58" stroke-width="0.8" stroke-opacity="0.85"/><circle cx="594.2" cy="414.4" r="2.2" fill="#d9c3aa" fill-opacity="0.35" stroke="#9c7a58" stroke-width="0.8" stroke-opacity="0.85"/><circle cx="644.5" cy="369.5" r="2.2" fill="#d9c3aa" fill-opacity="0.35" stroke="#9c7a58" stroke-width="0.8" stroke-opacity="0.85"/><circle cx="597.3" cy="412.1" r="2.2" fill="#d9c3aa" fill-opacity="0.35" stroke="#9c7a58" stroke-width="0.8" stroke-opacity="0.85"/><circle cx="614.2" cy="396.9" r="2.2" fill="#d9c3aa" fill-opacity="0.35" stroke="#9c7a58" stroke-width="0.8" stroke-opacity="0.85"/><circle cx="607.5" cy="403.1" r="2.2" fill="#d9c3aa" fill-opacity="0.35" stroke="#9c7a58" stroke-width="0.8" stroke-opacity="0.85"/><circle cx="607.7" cy="411.0" r="2.2" fill="#d9c3aa" fill-opacity="0.35" stroke="#9c7a58" stroke-width="0.8" stroke-opacity="0.85"/><circle cx="597.2" cy="411.3" r="2.2" fill="#d9c3aa" fill-opacity="0.35" stroke="#9c7a58" stroke-width="0.8" stroke-opacity="0.85"/><circle cx="598.7" cy="411.8" r="2.2" fill="#d9c3aa" fill-opacity="0.35" stroke="#9c7a58" stroke-width="0.8" stroke-opacity="0.85"/><circle cx="622.1" cy="387.8" r="2.2" fill="#d9c3aa" fill-opacity="0.35" stroke="#9c7a58" stroke-width="0.8" stroke-opacity="0.85"/><circle cx="606.4" cy="403.8" r="2.2" fill="#d9c3aa" fill-opacity="0.35" stroke="#9c7a58" stroke-width="0.8" stroke-opacity="0.85"/><circle cx="610.2" cy="401.6" r="2.2" fill="#d9c3aa" fill-opacity="0.35" stroke="#9c7a58" stroke-width="0.8" stroke-opacity="0.85"/><circle cx="617.7" cy="392.4" r="2.2" fill="#d9c3aa" fill-opacity="0.35" stroke="#9c7a58" stroke-width="0.8" stroke-opacity="0.85"/><circle cx="633.2" cy="377.1" r="2.2" fill="#d9c3aa" fill-opacity="0.35" stroke="#9c7a58" stroke-width="0.8" stroke-opacity="0.85"/><circle cx="606.7" cy="402.6" r="2.2" fill="#d9c3aa" fill-opacity="0.35" stroke="#9c7a58" stroke-width="0.8" stroke-opacity="0.85"/><circle cx="604.7" cy="404.4" r="2.2" fill="#d9c3aa" fill-opacity="0.35" stroke="#9c7a58" stroke-width="0.8" stroke-opacity="0.85"/><circle cx="639.3" cy="372.2" r="2.2" fill="#d9c3aa" fill-opacity="0.35" stroke="#9c7a58" stroke-width="0.8" stroke-opacity="0.85"/><circle cx="608.6" cy="401.0" r="2.2" fill="#d9c3aa" fill-opacity="0.35" stroke="#9c7a58" stroke-width="0.8" stroke-opacity="0.85"/><circle cx="600.7" cy="409.0" r="2.2" fill="#d9c3aa" fill-opacity="0.35" stroke="#9c7a58" stroke-width="0.8" stroke-opacity="0.85"/><circle cx="600.8" cy="409.2" r="2.2" fill="#d9c3aa" fill-opacity="0.35" stroke="#9c7a58" stroke-width="0.8" stroke-opacity="0.85"/><circle cx="610.6" cy="398.8" r="2.2" fill="#d9c3aa" fill-opacity="0.35" stroke="#9c7a58" stroke-width="0.8" stroke-opacity="0.85"/><circle cx="626.6" cy="383.2" r="2.2" fill="#d9c3aa" fill-opacity="0.35" stroke="#9c7a58" stroke-width="0.8" stroke-opacity="0.85"/><circle cx="616.1" cy="392.9" r="2.2" fill="#d9c3aa" fill-opacity="0.35" stroke="#9c7a58" stroke-width="0.8" stroke-opacity="0.85"/><circle cx="623.3" cy="388.5" r="2.2" fill="#d9c3aa" fill-opacity="0.35" stroke="#9c7a58" stroke-width="0.8" stroke-opacity="0.85"/><circle cx="598.2" cy="414.0" r="2.2" fill="#d9c3aa" fill-opacity="0.35" stroke="#9c7a58" stroke-width="0.8" stroke-opacity="0.85"/><circle cx="594.3" cy="414.4" r="2.2" fill="#d9c3aa" fill-opacity="0.35" stroke="#9c7a58" stroke-width="0.8" stroke-opacity="0.85"/><circle cx="596.5" cy="414.3" r="2.2" fill="#d9c3aa" fill-opacity="0.35" stroke="#9c7a58" stroke-width="0.8" stroke-opacity="0.85"/><circle cx="594.3" cy="414.8" r="2.2" fill="#d9c3aa" fill-opacity="0.35" stroke="#9c7a58" stroke-width="0.8" stroke-opacity="0.85"/><circle cx="603.1" cy="406.3" r="2.2" fill="#d9c3aa" fill-opacity="0.35" stroke="#9c7a58" stroke-width="0.8" stroke-opacity="0.85"/><circle cx="604.1" cy="410.4" r="2.2" fill="#d9c3aa" fill-opacity="0.35" stroke="#9c7a58" stroke-width="0.8" stroke-opacity="0.85"/><circle cx="621.3" cy="387.6" r="2.2" fill="#d9c3aa" fill-opacity="0.35" stroke="#9c7a58" stroke-width="0.8" stroke-opacity="0.85"/><circle cx="598.5" cy="411.2" r="2.2" fill="#d9c3aa" fill-opacity="0.35" stroke="#9c7a58" stroke-width="0.8" stroke-opacity="0.85"/><circle cx="605.4" cy="405.8" r="2.2" fill="#d9c3aa" fill-opacity="0.35" stroke="#9c7a58" stroke-width="0.8" stroke-opacity="0.85"/><circle cx="602.2" cy="408.9" r="2.2" fill="#d9c3aa" fill-opacity="0.35" stroke="#9c7a58" stroke-width="0.8" stroke-opacity="0.85"/><circle cx="594.3" cy="414.4" r="2.2" fill="#d9c3aa" fill-opacity="0.35" stroke="#9c7a58" stroke-width="0.8" stroke-opacity="0.85"/><circle cx="613.7" cy="397.4" r="2.2" fill="#d9c3aa" fill-opacity="0.35" stroke="#9c7a58" stroke-width="0.8" stroke-opacity="0.85"/><circle cx="632.0" cy="381.9" r="2.2" fill="#d9c3aa" fill-opacity="0.35" stroke="#9c7a58" stroke-width="0.8" stroke-opacity="0.85"/><circle cx="635.4" cy="379.6" r="2.2" fill="#d9c3aa" fill-opacity="0.35" stroke="#9c7a58" stroke-width="0.8" stroke-opacity="0.85"/><circle cx="602.7" cy="405.1" r="2.2" fill="#d9c3aa" fill-opacity="0.35" stroke="#9c7a58" stroke-width="0.8" stroke-opacity="0.85"/><circle cx="598.2" cy="411.2" r="2.2" fill="#d9c3aa" fill-opacity="0.35" stroke="#9c7a58" stroke-width="0.8" stroke-opacity="0.85"/><circle cx="596.9" cy="413.3" r="2.2" fill="#d9c3aa" fill-opacity="0.35" stroke="#9c7a58" stroke-width="0.8" stroke-opacity="0.85"/><circle cx="598.1" cy="411.1" r="2.2" fill="#d9c3aa" fill-opacity="0.35" stroke="#9c7a58" stroke-width="0.8" stroke-opacity="0.85"/><circle cx="642.9" cy="380.5" r="2.2" fill="#d9c3aa" fill-opacity="0.35" stroke="#9c7a58" stroke-width="0.8" stroke-opacity="0.85"/><circle cx="597.9" cy="412.7" r="2.2" fill="#d9c3aa" fill-opacity="0.35" stroke="#9c7a58" stroke-width="0.8" stroke-opacity="0.85"/><circle cx="602.2" cy="407.7" r="2.2" fill="#d9c3aa" fill-opacity="0.35" stroke="#9c7a58" stroke-width="0.8" stroke-opacity="0.85"/><circle cx="593.9" cy="414.7" r="2.2" fill="#d9c3aa" fill-opacity="0.35" stroke="#9c7a58" stroke-width="0.8" stroke-opacity="0.85"/><circle cx="643.0" cy="365.5" r="2.2" fill="#d9c3aa" fill-opacity="0.35" stroke="#9c7a58" stroke-width="0.8" stroke-opacity="0.85"/><circle cx="599.5" cy="411.2" r="2.2" fill="#d9c3aa" fill-opacity="0.35" stroke="#9c7a58" stroke-width="0.8" stroke-opacity="0.85"/><circle cx="602.1" cy="404.9" r="2.2" fill="#d9c3aa" fill-opacity="0.35" stroke="#9c7a58" stroke-width="0.8" stroke-opacity="0.85"/><circle cx="618.3" cy="399.4" r="2.2" fill="#d9c3aa" fill-opacity="0.35" stroke="#9c7a58" stroke-width="0.8" stroke-opacity="0.85"/><circle cx="602.8" cy="406.2" r="2.2" fill="#d9c3aa" fill-opacity="0.35" stroke="#9c7a58" stroke-width="0.8" stroke-opacity="0.85"/><circle cx="634.7" cy="375.8" r="2.2" fill="#d9c3aa" fill-opacity="0.35" stroke="#9c7a58" stroke-width="0.8" stroke-opacity="0.85"/><circle cx="594.6" cy="414.9" r="2.2" fill="#d9c3aa" fill-opacity="0.35" stroke="#9c7a58" stroke-width="0.8" stroke-opacity="0.85"/><circle cx="594.3" cy="414.5" r="2.2" fill="#d9c3aa" fill-opacity="0.35" stroke="#9c7a58" stroke-width="0.8" stroke-opacity="0.85"/><circle cx="600.7" cy="408.3" r="2.2" fill="#d9c3aa" fill-opacity="0.35" stroke="#9c7a58" stroke-width="0.8" stroke-opacity="0.85"/><circle cx="608.6" cy="400.8" r="2.2" fill="#d9c3aa" fill-opacity="0.35" stroke="#9c7a58" stroke-width="0.8" stroke-opacity="0.85"/><circle cx="618.4" cy="392.8" r="2.2" fill="#d9c3aa" fill-opacity="0.35" stroke="#9c7a58" stroke-width="0.8" stroke-opacity="0.85"/><circle cx="596.6" cy="412.4" r="2.2" fill="#d9c3aa" fill-opacity="0.35" stroke="#9c7a58" stroke-width="0.8" stroke-opacity="0.85"/><circle cx="603.5" cy="408.0" r="2.2" fill="#d9c3aa" fill-opacity="0.35" stroke="#9c7a58" stroke-width="0.8" stroke-opacity="0.85"/><circle cx="632.2" cy="378.5" r="2.2" fill="#d9c3aa" fill-opacity="0.35" stroke="#9c7a58" stroke-width="0.8" stroke-opacity="0.85"/><circle cx="598.2" cy="411.8" r="2.2" fill="#d9c3aa" fill-opacity="0.35" stroke="#9c7a58" stroke-width="0.8" stroke-opacity="0.85"/><circle cx="594.0" cy="414.0" r="2.2" fill="#d9c3aa" fill-opacity="0.35" stroke="#9c7a58" stroke-width="0.8" stroke-opacity="0.85"/><circle cx="600.3" cy="409.6" r="2.2" fill="#d9c3aa" fill-opacity="0.35" stroke="#9c7a58" stroke-width="0.8" stroke-opacity="0.85"/><circle cx="641.9" cy="370.3" r="2.2" fill="#d9c3aa" fill-opacity="0.35" stroke="#9c7a58" stroke-width="0.8" stroke-opacity="0.85"/><circle cx="653.3" cy="377.0" r="2.2" fill="#d9c3aa" fill-opacity="0.35" stroke="#9c7a58" stroke-width="0.8" stroke-opacity="0.85"/><circle cx="598.6" cy="411.3" r="2.2" fill="#d9c3aa" fill-opacity="0.35" stroke="#9c7a58" stroke-width="0.8" stroke-opacity="0.85"/><circle cx="603.1" cy="406.7" r="2.2" fill="#d9c3aa" fill-opacity="0.35" stroke="#9c7a58" stroke-width="0.8" stroke-opacity="0.85"/><circle cx="602.8" cy="407.4" r="2.2" fill="#d9c3aa" fill-opacity="0.35" stroke="#9c7a58" stroke-width="0.8" stroke-opacity="0.85"/><circle cx="596.8" cy="411.8" r="2.2" fill="#d9c3aa" fill-opacity="0.35" stroke="#9c7a58" stroke-width="0.8" stroke-opacity="0.85"/><circle cx="605.9" cy="403.7" r="2.2" fill="#d9c3aa" fill-opacity="0.35" stroke="#9c7a58" stroke-width="0.8" stroke-opacity="0.85"/><circle cx="595.4" cy="414.0" r="2.2" fill="#d9c3aa" fill-opacity="0.35" stroke="#9c7a58" stroke-width="0.8" stroke-opacity="0.85"/><circle cx="604.1" cy="407.2" r="2.2" fill="#d9c3aa" fill-opacity="0.35" stroke="#9c7a58" stroke-width="0.8" stroke-opacity="0.85"/><circle cx="609.0" cy="401.8" r="2.2" fill="#d9c3aa" fill-opacity="0.35" stroke="#9c7a58" stroke-width="0.8" stroke-opacity="0.85"/><circle cx="593.9" cy="414.8" r="2.2" fill="#d9c3aa" fill-opacity="0.35" stroke="#9c7a58" stroke-width="0.8" stroke-opacity="0.85"/><circle cx="603.5" cy="405.8" r="2.2" fill="#d9c3aa" fill-opacity="0.35" stroke="#9c7a58" stroke-width="0.8" stroke-opacity="0.85"/><circle cx="606.7" cy="403.9" r="2.2" fill="#d9c3aa" fill-opacity="0.35" stroke="#9c7a58" stroke-width="0.8" stroke-opacity="0.85"/><circle cx="599.1" cy="409.8" r="2.2" fill="#d9c3aa" fill-opacity="0.35" stroke="#9c7a58" stroke-width="0.8" stroke-opacity="0.85"/><circle cx="601.7" cy="412.2" r="2.2" fill="#d9c3aa" fill-opacity="0.35" stroke="#9c7a58" stroke-width="0.8" stroke-opacity="0.85"/><circle cx="614.7" cy="395.2" r="2.2" fill="#d9c3aa" fill-opacity="0.35" stroke="#9c7a58" stroke-width="0.8" stroke-opacity="0.85"/><circle cx="605.7" cy="404.9" r="2.2" fill="#d9c3aa" fill-opacity="0.35" stroke="#9c7a58" stroke-width="0.8" stroke-opacity="0.85"/><circle cx="610.0" cy="401.7" r="2.2" fill="#d9c3aa" fill-opacity="0.35" stroke="#9c7a58" stroke-width="0.8" stroke-opacity="0.85"/><circle cx="621.9" cy="389.6" r="2.2" fill="#d9c3aa" fill-opacity="0.35" stroke="#9c7a58" stroke-width="0.8" stroke-opacity="0.85"/><circle cx="603.8" cy="406.3" r="2.2" fill="#d9c3aa" fill-opacity="0.35" stroke="#9c7a58" stroke-width="0.8" stroke-opacity="0.85"/><circle cx="627.6" cy="399.1" r="2.2" fill="#d9c3aa" fill-opacity="0.35" stroke="#9c7a58" stroke-width="0.8" stroke-opacity="0.85"/><circle cx="594.2" cy="414.6" r="2.2" fill="#d9c3aa" fill-opacity="0.35" stroke="#9c7a58" stroke-width="0.8" stroke-opacity="0.85"/><circle cx="600.6" cy="409.0" r="2.2" fill="#d9c3aa" fill-opacity="0.35" stroke="#9c7a58" stroke-width="0.8" stroke-opacity="0.85"/><circle cx="597.6" cy="411.1" r="2.2" fill="#d9c3aa" fill-opacity="0.35" stroke="#9c7a58" stroke-width="0.8" stroke-opacity="0.85"/><circle cx="615.5" cy="396.7" r="2.2" fill="#d9c3aa" fill-opacity="0.35" stroke="#9c7a58" stroke-width="0.8" stroke-opacity="0.85"/><circle cx="603.1" cy="405.7" r="2.2" fill="#d9c3aa" fill-opacity="0.35" stroke="#9c7a58" stroke-width="0.8" stroke-opacity="0.85"/><circle cx="606.6" cy="404.9" r="2.2" fill="#d9c3aa" fill-opacity="0.35" stroke="#9c7a58" stroke-width="0.8" stroke-opacity="0.85"/><circle cx="609.3" cy="401.0" r="2.2" fill="#d9c3aa" fill-opacity="0.35" stroke="#9c7a58" stroke-width="0.8" stroke-opacity="0.85"/><circle cx="660.3" cy="356.0" r="2.2" fill="#d9c3aa" fill-opacity="0.35" stroke="#9c7a58" stroke-width="0.8" stroke-opacity="0.85"/><circle cx="600.7" cy="406.5" r="2.2" fill="#d9c3aa" fill-opacity="0.35" stroke="#9c7a58" stroke-width="0.8" stroke-opacity="0.85"/><circle cx="616.4" cy="397.2" r="2.2" fill="#d9c3aa" fill-opacity="0.35" stroke="#9c7a58" stroke-width="0.8" stroke-opacity="0.85"/><circle cx="596.8" cy="412.3" r="2.2" fill="#d9c3aa" fill-opacity="0.35" stroke="#9c7a58" stroke-width="0.8" stroke-opacity="0.85"/><circle cx="606.5" cy="403.5" r="2.2" fill="#d9c3aa" fill-opacity="0.35" stroke="#9c7a58" stroke-width="0.8" stroke-opacity="0.85"/><circle cx="620.1" cy="390.9" r="2.2" fill="#d9c3aa" fill-opacity="0.35" stroke="#9c7a58" stroke-width="0.8" stroke-opacity="0.85"/><circle cx="598.7" cy="410.4" r="2.2" fill="#d9c3aa" fill-opacity="0.35" stroke="#9c7a58" stroke-width="0.8" stroke-opacity="0.85"/><circle cx="607.4" cy="402.7" r="2.2" fill="#d9c3aa" fill-opacity="0.35" stroke="#9c7a58" stroke-width="0.8" stroke-opacity="0.85"/><circle cx="594.8" cy="415.0" r="2.2" fill="#d9c3aa" fill-opacity="0.35" stroke="#9c7a58" stroke-width="0.8" stroke-opacity="0.85"/><circle cx="605.1" cy="403.2" r="2.2" fill="#d9c3aa" fill-opacity="0.35" stroke="#9c7a58" stroke-width="0.8" stroke-opacity="0.85"/><circle cx="606.1" cy="405.3" r="2.2" fill="#d9c3aa" fill-opacity="0.35" stroke="#9c7a58" stroke-width="0.8" stroke-opacity="0.85"/><circle cx="594.6" cy="414.6" r="2.2" fill="#d9c3aa" fill-opacity="0.35" stroke="#9c7a58" stroke-width="0.8" stroke-opacity="0.85"/><circle cx="624.2" cy="385.9" r="2.2" fill="#d9c3aa" fill-opacity="0.35" stroke="#9c7a58" stroke-width="0.8" stroke-opacity="0.85"/><circle cx="617.7" cy="393.5" r="2.2" fill="#d9c3aa" fill-opacity="0.35" stroke="#9c7a58" stroke-width="0.8" stroke-opacity="0.85"/><circle cx="601.3" cy="406.8" r="2.2" fill="#d9c3aa" fill-opacity="0.35" stroke="#9c7a58" stroke-width="0.8" stroke-opacity="0.85"/><circle cx="609.6" cy="402.6" r="2.2" fill="#d9c3aa" fill-opacity="0.35" stroke="#9c7a58" stroke-width="0.8" stroke-opacity="0.85"/><circle cx="617.1" cy="394.3" r="2.2" fill="#d9c3aa" fill-opacity="0.35" stroke="#9c7a58" stroke-width="0.8" stroke-opacity="0.85"/><circle cx="596.1" cy="414.6" r="2.2" fill="#d9c3aa" fill-opacity="0.35" stroke="#9c7a58" stroke-width="0.8" stroke-opacity="0.85"/><circle cx="614.8" cy="394.6" r="2.2" fill="#d9c3aa" fill-opacity="0.35" stroke="#9c7a58" stroke-width="0.8" stroke-opacity="0.85"/><circle cx="610.5" cy="400.4" r="2.2" fill="#d9c3aa" fill-opacity="0.35" stroke="#9c7a58" stroke-width="0.8" stroke-opacity="0.85"/><circle cx="661.3" cy="351.5" r="2.2" fill="#d9c3aa" fill-opacity="0.35" stroke="#9c7a58" stroke-width="0.8" stroke-opacity="0.85"/><circle cx="612.7" cy="398.6" r="2.2" fill="#d9c3aa" fill-opacity="0.35" stroke="#9c7a58" stroke-width="0.8" stroke-opacity="0.85"/><circle cx="727.2" cy="285.8" r="2.2" fill="#d9c3aa" fill-opacity="0.35" stroke="#9c7a58" stroke-width="0.8" stroke-opacity="0.85"/><circle cx="734.7" cy="282.7" r="2.2" fill="#d9c3aa" fill-opacity="0.35" stroke="#9c7a58" stroke-width="0.8" stroke-opacity="0.85"/><circle cx="716.8" cy="318.8" r="2.2" fill="#d9c3aa" fill-opacity="0.35" stroke="#9c7a58" stroke-width="0.8" stroke-opacity="0.85"/><circle cx="689.8" cy="325.6" r="2.2" fill="#d9c3aa" fill-opacity="0.35" stroke="#9c7a58" stroke-width="0.8" stroke-opacity="0.85"/><circle cx="661.1" cy="332.0" r="2.2" fill="#d9c3aa" fill-opacity="0.35" stroke="#9c7a58" stroke-width="0.8" stroke-opacity="0.85"/><circle cx="684.9" cy="334.4" r="2.2" fill="#d9c3aa" fill-opacity="0.35" stroke="#9c7a58" stroke-width="0.8" stroke-opacity="0.85"/><circle cx="688.7" cy="336.3" r="2.2" fill="#d9c3aa" fill-opacity="0.35" stroke="#9c7a58" stroke-width="0.8" stroke-opacity="0.85"/><circle cx="694.1" cy="339.4" r="2.2" fill="#d9c3aa" fill-opacity="0.35" stroke="#9c7a58" stroke-width="0.8" stroke-opacity="0.85"/><circle cx="697.3" cy="349.7" r="2.2" fill="#d9c3aa" fill-opacity="0.35" stroke="#9c7a58" stroke-width="0.8" stroke-opacity="0.85"/><circle cx="671.8" cy="344.9" r="2.2" fill="#d9c3aa" fill-opacity="0.35" stroke="#9c7a58" stroke-width="0.8" stroke-opacity="0.85"/><circle cx="661.6" cy="371.3" r="2.2" fill="#d9c3aa" fill-opacity="0.35" stroke="#9c7a58" stroke-width="0.8" stroke-opacity="0.85"/><circle cx="617.5" cy="370.3" r="2.2" fill="#d9c3aa" fill-opacity="0.35" stroke="#9c7a58" stroke-width="0.8" stroke-opacity="0.85"/><circle cx="603.6" cy="376.0" r="2.2" fill="#d9c3aa" fill-opacity="0.35" stroke="#9c7a58" stroke-width="0.8" stroke-opacity="0.85"/><circle cx="598.4" cy="390.1" r="2.2" fill="#d9c3aa" fill-opacity="0.35" stroke="#9c7a58" stroke-width="0.8" stroke-opacity="0.85"/><circle cx="636.1" cy="413.1" r="2.2" fill="#d9c3aa" fill-opacity="0.35" stroke="#9c7a58" stroke-width="0.8" stroke-opacity="0.85"/><circle cx="647.0" cy="380.6" r="2.2" fill="#d9c3aa" fill-opacity="0.35" stroke="#9c7a58" stroke-width="0.8" stroke-opacity="0.85"/><circle cx="640.6" cy="384.7" r="2.2" fill="#d9c3aa" fill-opacity="0.35" stroke="#9c7a58" stroke-width="0.8" stroke-opacity="0.85"/><circle cx="625.6" cy="392.9" r="2.2" fill="#d9c3aa" fill-opacity="0.35" stroke="#9c7a58" stroke-width="0.8" stroke-opacity="0.85"/><circle cx="666.3" cy="353.8" r="2.2" fill="#d9c3aa" fill-opacity="0.35" stroke="#9c7a58" stroke-width="0.8" stroke-opacity="0.85"/><circle cx="657.7" cy="364.1" r="2.2" fill="#d9c3aa" fill-opacity="0.35" stroke="#9c7a58" stroke-width="0.8" stroke-opacity="0.85"/><circle cx="653.4" cy="366.2" r="2.2" fill="#d9c3aa" fill-opacity="0.35" stroke="#9c7a58" stroke-width="0.8" stroke-opacity="0.85"/><circle cx="634.2" cy="388.8" r="2.2" fill="#d9c3aa" fill-opacity="0.35" stroke="#9c7a58" stroke-width="0.8" stroke-opacity="0.85"/><circle cx="668.4" cy="347.6" r="2.2" fill="#d9c3aa" fill-opacity="0.35" stroke="#9c7a58" stroke-width="0.8" stroke-opacity="0.85"/><circle cx="664.1" cy="355.9" r="2.2" fill="#d9c3aa" fill-opacity="0.35" stroke="#9c7a58" stroke-width="0.8" stroke-opacity="0.85"/><circle cx="649.1" cy="389.9" r="2.2" fill="#d9c3aa" fill-opacity="0.35" stroke="#9c7a58" stroke-width="0.8" stroke-opacity="0.85"/><circle cx="641.6" cy="396.0" r="2.2" fill="#d9c3aa" fill-opacity="0.35" stroke="#9c7a58" stroke-width="0.8" stroke-opacity="0.85"/><circle cx="617.0" cy="406.3" r="2.2" fill="#d9c3aa" fill-opacity="0.35" stroke="#9c7a58" stroke-width="0.8" stroke-opacity="0.85"/><circle cx="610.6" cy="409.4" r="2.2" fill="#d9c3aa" fill-opacity="0.35" stroke="#9c7a58" stroke-width="0.8" stroke-opacity="0.85"/><line x1="593.5" y1="415.6" x2="735.6" y2="277.5" stroke="#333" stroke-width="0.9"/></g><line x1="591.0" y1="395.0" x2="593.5" y2="395.0" stroke="#444" stroke-width="0.8"/><text x="588.5" y="398.3" font-size="9" text-anchor="end" fill="#222">1</text><line x1="591.0" y1="374.4" x2="593.5" y2="374.4" stroke="#444" stroke-width="0.8"/><text x="588.5" y="377.7" font-size="9" text-anchor="end" fill="#222">2</text><line x1="591.0" y1="353.8" x2="593.5" y2="353.8" stroke="#444" stroke-width="0.8"/><text x="588.5" y="357.1" font-size="9" text-anchor="end" fill="#222">3</text><line x1="591.0" y1="333.2" x2="593.5" y2="333.2" stroke="#444" stroke-width="0.8"/><text x="588.5" y="336.5" font-size="9" text-anchor="end" fill="#222">4</text><line x1="591.0" y1="312.6" x2="593.5" y2="312.6" stroke="#444" stroke-width="0.8"/><text x="588.5" y="315.9" font-size="9" text-anchor="end" fill="#222">5</text><line x1="591.0" y1="292.0" x2="593.5" y2="292.0" stroke="#444" stroke-width="0.8"/><text x="588.5" y="295.3" font-size="9" text-anchor="end" fill="#222">6</text><line x1="636.3" y1="415.6" x2="636.3" y2="418.1" stroke="#444" stroke-width="0.8"/><text x="636.3" y="428.1" font-size="9" text-anchor="middle" fill="#222">2</text><line x1="679.1" y1="415.6" x2="679.1" y2="418.1" stroke="#444" stroke-width="0.8"/><text x="679.1" y="428.1" font-size="9" text-anchor="middle" fill="#222">4</text><line x1="721.9" y1="415.6" x2="721.9" y2="418.1" stroke="#444" stroke-width="0.8"/><text x="721.9" y="428.1" font-size="9" text-anchor="middle" fill="#222">6</text><circle cx="610.8" cy="290" r="2.2" fill="#d9c3aa" fill-opacity="0.35" stroke="#9c7a58" stroke-width="0.8" stroke-opacity="0.85"/><text x="627.5" y="293.2" font-size="9" fill="#222">Data points</text><line x1="602" y1="302" x2="618.5" y2="302" stroke="#333" stroke-width="0.8" stroke-dasharray="2.4,1.1"/><text x="627.5" y="305.2" font-size="9" fill="#222">Perfect prediction</text><text x="665.7" y="439.5" font-size="9" text-anchor="middle" fill="#222"><tspan font-style="italic">E</tspan><tspan font-size="6.5" dy="2" font-style="italic">m</tspan><tspan dy="-2">(DFT), eV</tspan></text><text transform="translate(579,348.5) rotate(-90)" font-size="9" text-anchor="middle" fill="#222"><tspan font-style="italic">E</tspan><tspan font-size="6.5" dy="2" font-style="italic">m</tspan><tspan dy="-2">(SevenNet-ft), eV</tspan></text></g>
</svg></body></html>
